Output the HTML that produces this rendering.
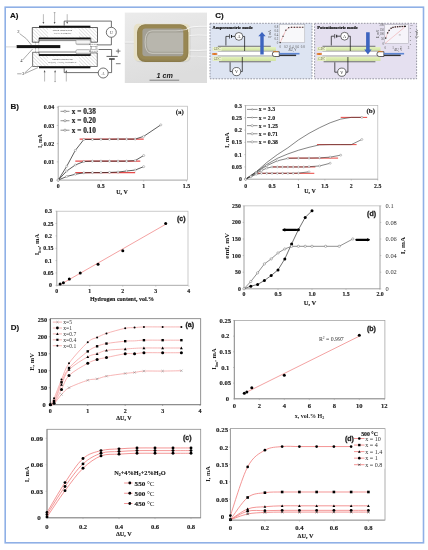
<!DOCTYPE html>
<html><head><meta charset="utf-8"><title>Figure</title>
<style>html,body{margin:0;padding:0;background:#fff;} body{width:428px;height:550px;overflow:hidden;} svg{display:block;}</style>
</head><body>
<svg width="428" height="550" viewBox="0 0 428 550">
<rect x="0" y="0" width="428" height="550" fill="#fff" stroke="none" stroke-width="1" />
<rect x="5.2" y="7.2" width="418.3" height="535.6" fill="none" stroke="#8fb0e6" stroke-width="1.6" />
<text x="10" y="17.7" font-size="8" text-anchor="start" font-weight="bold" font-family="'Liberation Sans', 'DejaVu Sans', sans-serif" fill="#111" stroke="#111" stroke-width="0.15" >A)</text>
<text x="10.4" y="109.4" font-size="8" text-anchor="start" font-weight="bold" font-family="'Liberation Sans', 'DejaVu Sans', sans-serif" fill="#111" stroke="#111" stroke-width="0.15" >B)</text>
<text x="215.2" y="17.9" font-size="8" text-anchor="start" font-weight="bold" font-family="'Liberation Sans', 'DejaVu Sans', sans-serif" fill="#111" stroke="#111" stroke-width="0.15" >C)</text>
<text x="10.8" y="330" font-size="8" text-anchor="start" font-weight="bold" font-family="'Liberation Sans', 'DejaVu Sans', sans-serif" fill="#111" stroke="#111" stroke-width="0.15" >D)</text>
<rect x="58.2" y="106.2" width="129.2" height="73.9" fill="none" stroke="#b4b4b4" stroke-width="0.7" />
<line x1="58.2" y1="106.1" x2="58.2" y2="180.1" stroke="#aaa" stroke-width="0.7" />
<line x1="58.2" y1="180.1" x2="187" y2="180.1" stroke="#aaa" stroke-width="0.7" />
<line x1="56.8" y1="180.1" x2="58.2" y2="180.1" stroke="#999" stroke-width="0.5" />
<text x="51.5" y="182.16" font-size="5.9" text-anchor="middle" font-weight="bold" font-family="'Liberation Serif', 'DejaVu Serif', serif" fill="#222" stroke="#222" stroke-width="0.15" >0</text>
<line x1="56.8" y1="161.88" x2="58.2" y2="161.88" stroke="#999" stroke-width="0.5" />
<text x="54.1" y="163.94" font-size="5.9" text-anchor="end" font-weight="bold" font-family="'Liberation Serif', 'DejaVu Serif', serif" fill="#222" stroke="#222" stroke-width="0.15" >0.01</text>
<line x1="56.8" y1="143.66" x2="58.2" y2="143.66" stroke="#999" stroke-width="0.5" />
<text x="54.1" y="145.72" font-size="5.9" text-anchor="end" font-weight="bold" font-family="'Liberation Serif', 'DejaVu Serif', serif" fill="#222" stroke="#222" stroke-width="0.15" >0.02</text>
<line x1="56.8" y1="125.44" x2="58.2" y2="125.44" stroke="#999" stroke-width="0.5" />
<text x="54.1" y="127.5" font-size="5.9" text-anchor="end" font-weight="bold" font-family="'Liberation Serif', 'DejaVu Serif', serif" fill="#222" stroke="#222" stroke-width="0.15" >0.03</text>
<line x1="56.8" y1="107.22" x2="58.2" y2="107.22" stroke="#999" stroke-width="0.5" />
<text x="54.1" y="109.28" font-size="5.9" text-anchor="end" font-weight="bold" font-family="'Liberation Serif', 'DejaVu Serif', serif" fill="#222" stroke="#222" stroke-width="0.15" >0.04</text>
<line x1="58.2" y1="180.2" x2="58.2" y2="181.5" stroke="#999" stroke-width="0.5" />
<text x="58.2" y="188.03" font-size="5.8" text-anchor="middle" font-weight="bold" font-family="'Liberation Serif', 'DejaVu Serif', serif" fill="#222" stroke="#222" stroke-width="0.15" >0</text>
<line x1="100.95" y1="180.2" x2="100.95" y2="181.5" stroke="#999" stroke-width="0.5" />
<text x="100.95" y="188.03" font-size="5.8" text-anchor="middle" font-weight="bold" font-family="'Liberation Serif', 'DejaVu Serif', serif" fill="#222" stroke="#222" stroke-width="0.15" >0.5</text>
<line x1="143.7" y1="180.2" x2="143.7" y2="181.5" stroke="#999" stroke-width="0.5" />
<text x="143.7" y="188.03" font-size="5.8" text-anchor="middle" font-weight="bold" font-family="'Liberation Serif', 'DejaVu Serif', serif" fill="#222" stroke="#222" stroke-width="0.15" >1</text>
<line x1="186.45" y1="180.2" x2="186.45" y2="181.5" stroke="#999" stroke-width="0.5" />
<text x="186.45" y="188.03" font-size="5.8" text-anchor="middle" font-weight="bold" font-family="'Liberation Serif', 'DejaVu Serif', serif" fill="#222" stroke="#222" stroke-width="0.15" >1.5</text>
<text transform="translate(42.46,141.1) rotate(-90)" font-size="5.6" text-anchor="middle" font-weight="bold" font-family="'Liberation Serif', 'DejaVu Serif', serif" fill="#222" >I, mA</text>
<text x="122" y="193.6" font-size="6" text-anchor="middle" font-weight="bold" font-family="'Liberation Serif', 'DejaVu Serif', serif" fill="#222" stroke="#222" stroke-width="0.15" >U, V</text>
<text x="179.7" y="114.12" font-size="6.9" text-anchor="middle" font-weight="bold" font-family="'Liberation Serif', 'DejaVu Serif', serif" fill="#222" stroke="#222" stroke-width="0.15" >(a)</text>
<line x1="60.5" y1="111.3" x2="69.5" y2="111.3" stroke="#444" stroke-width="0.6" />
<circle cx="65" cy="111.3" r="1.1" fill="#fff" stroke="#555" stroke-width="0.45"/>
<text x="71.7" y="113.75" font-size="7.3" font-weight="bold" font-family="'Liberation Serif', 'DejaVu Serif', serif" fill="#1a1a1a" stroke="#1a1a1a" stroke-width="0.15">x = 0.38</text>
<line x1="60.5" y1="120.75" x2="69.5" y2="120.75" stroke="#444" stroke-width="0.6" />
<circle cx="65" cy="120.75" r="1.1" fill="#fff" stroke="#555" stroke-width="0.45"/>
<text x="71.7" y="123.2" font-size="7.3" font-weight="bold" font-family="'Liberation Serif', 'DejaVu Serif', serif" fill="#1a1a1a" stroke="#1a1a1a" stroke-width="0.15">x = 0.20</text>
<line x1="60.5" y1="130.2" x2="69.5" y2="130.2" stroke="#444" stroke-width="0.6" />
<circle cx="65" cy="130.2" r="1.1" fill="#fff" stroke="#555" stroke-width="0.45"/>
<text x="71.7" y="132.65" font-size="7.3" font-weight="bold" font-family="'Liberation Serif', 'DejaVu Serif', serif" fill="#1a1a1a" stroke="#1a1a1a" stroke-width="0.15">x = 0.10</text>
<line x1="79.58" y1="139.1" x2="143.7" y2="139.1" stroke="#e84a4a" stroke-width="1.1" />
<polyline points="58.2,180.1 66.75,166.25 75.3,150.4 83.85,139.47 92.4,139.47 100.95,139.29 109.5,139.29 118.05,139.1 126.6,139.1 135.15,139.1 143.7,136.37 160.8,124.89" stroke="#2a2a2a" stroke-width="0.75" fill="none" />
<circle cx="58.2" cy="180.1" r="1.05" fill="#fff" stroke="#777" stroke-width="0.4"/>
<circle cx="66.75" cy="166.25" r="1.05" fill="#fff" stroke="#777" stroke-width="0.4"/>
<circle cx="75.3" cy="150.4" r="1.05" fill="#fff" stroke="#777" stroke-width="0.4"/>
<circle cx="83.85" cy="139.47" r="1.05" fill="#fff" stroke="#777" stroke-width="0.4"/>
<circle cx="92.4" cy="139.47" r="1.05" fill="#fff" stroke="#777" stroke-width="0.4"/>
<circle cx="100.95" cy="139.29" r="1.05" fill="#fff" stroke="#777" stroke-width="0.4"/>
<circle cx="109.5" cy="139.29" r="1.05" fill="#fff" stroke="#777" stroke-width="0.4"/>
<circle cx="118.05" cy="139.1" r="1.05" fill="#fff" stroke="#777" stroke-width="0.4"/>
<circle cx="126.6" cy="139.1" r="1.05" fill="#fff" stroke="#777" stroke-width="0.4"/>
<circle cx="135.15" cy="139.1" r="1.05" fill="#fff" stroke="#777" stroke-width="0.4"/>
<circle cx="143.7" cy="136.37" r="1.05" fill="#fff" stroke="#777" stroke-width="0.4"/>
<circle cx="160.8" cy="124.89" r="1.05" fill="#fff" stroke="#777" stroke-width="0.4"/>
<line x1="75.3" y1="161.15" x2="140.28" y2="161.15" stroke="#e84a4a" stroke-width="1.1" />
<polyline points="58.2,180.1 66.75,170.99 75.3,164.98 83.85,161.52 92.4,161.15 100.95,161.15 109.5,161.15 118.05,161.15 126.6,161.15 135.15,160.6 143.7,155.5" stroke="#2a2a2a" stroke-width="0.75" fill="none" />
<circle cx="58.2" cy="180.1" r="1.05" fill="#fff" stroke="#777" stroke-width="0.4"/>
<circle cx="66.75" cy="170.99" r="1.05" fill="#fff" stroke="#777" stroke-width="0.4"/>
<circle cx="75.3" cy="164.98" r="1.05" fill="#fff" stroke="#777" stroke-width="0.4"/>
<circle cx="83.85" cy="161.52" r="1.05" fill="#fff" stroke="#777" stroke-width="0.4"/>
<circle cx="92.4" cy="161.15" r="1.05" fill="#fff" stroke="#777" stroke-width="0.4"/>
<circle cx="100.95" cy="161.15" r="1.05" fill="#fff" stroke="#777" stroke-width="0.4"/>
<circle cx="109.5" cy="161.15" r="1.05" fill="#fff" stroke="#777" stroke-width="0.4"/>
<circle cx="118.05" cy="161.15" r="1.05" fill="#fff" stroke="#777" stroke-width="0.4"/>
<circle cx="126.6" cy="161.15" r="1.05" fill="#fff" stroke="#777" stroke-width="0.4"/>
<circle cx="135.15" cy="160.6" r="1.05" fill="#fff" stroke="#777" stroke-width="0.4"/>
<circle cx="143.7" cy="155.5" r="1.05" fill="#fff" stroke="#777" stroke-width="0.4"/>
<line x1="75.3" y1="172.63" x2="135.15" y2="172.63" stroke="#e84a4a" stroke-width="1.1" />
<polyline points="58.2,180.1 66.75,176.46 75.3,174.27 83.85,172.81 92.4,172.63 100.95,172.63 109.5,172.45 118.05,172.08 126.6,170.99 135.15,170.08 143.7,166.62" stroke="#2a2a2a" stroke-width="0.75" fill="none" />
<circle cx="58.2" cy="180.1" r="1.05" fill="#fff" stroke="#777" stroke-width="0.4"/>
<circle cx="66.75" cy="176.46" r="1.05" fill="#fff" stroke="#777" stroke-width="0.4"/>
<circle cx="75.3" cy="174.27" r="1.05" fill="#fff" stroke="#777" stroke-width="0.4"/>
<circle cx="83.85" cy="172.81" r="1.05" fill="#fff" stroke="#777" stroke-width="0.4"/>
<circle cx="92.4" cy="172.63" r="1.05" fill="#fff" stroke="#777" stroke-width="0.4"/>
<circle cx="100.95" cy="172.63" r="1.05" fill="#fff" stroke="#777" stroke-width="0.4"/>
<circle cx="109.5" cy="172.45" r="1.05" fill="#fff" stroke="#777" stroke-width="0.4"/>
<circle cx="118.05" cy="172.08" r="1.05" fill="#fff" stroke="#777" stroke-width="0.4"/>
<circle cx="126.6" cy="170.99" r="1.05" fill="#fff" stroke="#777" stroke-width="0.4"/>
<circle cx="135.15" cy="170.08" r="1.05" fill="#fff" stroke="#777" stroke-width="0.4"/>
<circle cx="143.7" cy="166.62" r="1.05" fill="#fff" stroke="#777" stroke-width="0.4"/>
<rect x="245.6" y="105.6" width="132.2" height="73.6" fill="none" stroke="#b4b4b4" stroke-width="0.7" />
<line x1="245.6" y1="105.6" x2="245.6" y2="179.2" stroke="#aaa" stroke-width="0.7" />
<line x1="245.6" y1="179.2" x2="377.8" y2="179.2" stroke="#aaa" stroke-width="0.7" />
<line x1="244.3" y1="179.2" x2="245.6" y2="179.2" stroke="#999" stroke-width="0.5" />
<text x="241.8" y="181.23" font-size="5.8" text-anchor="end" font-weight="bold" font-family="'Liberation Serif', 'DejaVu Serif', serif" fill="#222" stroke="#222" stroke-width="0.15" >0</text>
<line x1="244.3" y1="166.94" x2="245.6" y2="166.94" stroke="#999" stroke-width="0.5" />
<text x="241.8" y="168.97" font-size="5.8" text-anchor="end" font-weight="bold" font-family="'Liberation Serif', 'DejaVu Serif', serif" fill="#222" stroke="#222" stroke-width="0.15" >0.05</text>
<line x1="244.3" y1="154.67" x2="245.6" y2="154.67" stroke="#999" stroke-width="0.5" />
<text x="241.8" y="156.7" font-size="5.8" text-anchor="end" font-weight="bold" font-family="'Liberation Serif', 'DejaVu Serif', serif" fill="#222" stroke="#222" stroke-width="0.15" >0.1</text>
<line x1="244.3" y1="142.4" x2="245.6" y2="142.4" stroke="#999" stroke-width="0.5" />
<text x="241.8" y="144.43" font-size="5.8" text-anchor="end" font-weight="bold" font-family="'Liberation Serif', 'DejaVu Serif', serif" fill="#222" stroke="#222" stroke-width="0.15" >0.15</text>
<line x1="244.3" y1="130.14" x2="245.6" y2="130.14" stroke="#999" stroke-width="0.5" />
<text x="241.8" y="132.17" font-size="5.8" text-anchor="end" font-weight="bold" font-family="'Liberation Serif', 'DejaVu Serif', serif" fill="#222" stroke="#222" stroke-width="0.15" >0.2</text>
<line x1="244.3" y1="117.87" x2="245.6" y2="117.87" stroke="#999" stroke-width="0.5" />
<text x="241.8" y="119.9" font-size="5.8" text-anchor="end" font-weight="bold" font-family="'Liberation Serif', 'DejaVu Serif', serif" fill="#222" stroke="#222" stroke-width="0.15" >0.25</text>
<line x1="244.3" y1="105.61" x2="245.6" y2="105.61" stroke="#999" stroke-width="0.5" />
<text x="241.8" y="107.64" font-size="5.8" text-anchor="end" font-weight="bold" font-family="'Liberation Serif', 'DejaVu Serif', serif" fill="#222" stroke="#222" stroke-width="0.15" >0.3</text>
<line x1="245.6" y1="179.2" x2="245.6" y2="180.5" stroke="#999" stroke-width="0.5" />
<text x="245.6" y="187.53" font-size="5.8" text-anchor="middle" font-weight="bold" font-family="'Liberation Serif', 'DejaVu Serif', serif" fill="#222" stroke="#222" stroke-width="0.15" >0</text>
<line x1="272.02" y1="179.2" x2="272.02" y2="180.5" stroke="#999" stroke-width="0.5" />
<text x="272.02" y="187.53" font-size="5.8" text-anchor="middle" font-weight="bold" font-family="'Liberation Serif', 'DejaVu Serif', serif" fill="#222" stroke="#222" stroke-width="0.15" >0.5</text>
<line x1="298.45" y1="179.2" x2="298.45" y2="180.5" stroke="#999" stroke-width="0.5" />
<text x="298.45" y="187.53" font-size="5.8" text-anchor="middle" font-weight="bold" font-family="'Liberation Serif', 'DejaVu Serif', serif" fill="#222" stroke="#222" stroke-width="0.15" >1</text>
<line x1="324.88" y1="179.2" x2="324.88" y2="180.5" stroke="#999" stroke-width="0.5" />
<text x="324.88" y="187.53" font-size="5.8" text-anchor="middle" font-weight="bold" font-family="'Liberation Serif', 'DejaVu Serif', serif" fill="#222" stroke="#222" stroke-width="0.15" >1.5</text>
<line x1="351.3" y1="179.2" x2="351.3" y2="180.5" stroke="#999" stroke-width="0.5" />
<text x="351.3" y="187.53" font-size="5.8" text-anchor="middle" font-weight="bold" font-family="'Liberation Serif', 'DejaVu Serif', serif" fill="#222" stroke="#222" stroke-width="0.15" >2</text>
<line x1="377.73" y1="179.2" x2="377.73" y2="180.5" stroke="#999" stroke-width="0.5" />
<text x="377.73" y="187.53" font-size="5.8" text-anchor="middle" font-weight="bold" font-family="'Liberation Serif', 'DejaVu Serif', serif" fill="#222" stroke="#222" stroke-width="0.15" >2.5</text>
<text transform="translate(229.14,140.2) rotate(-90)" font-size="6.4" text-anchor="middle" font-weight="bold" font-family="'Liberation Serif', 'DejaVu Serif', serif" fill="#222" >I, mA</text>
<text x="310" y="193.1" font-size="6" text-anchor="middle" font-weight="bold" font-family="'Liberation Serif', 'DejaVu Serif', serif" fill="#222" stroke="#222" stroke-width="0.15" >U, V</text>
<text x="370.7" y="113.35" font-size="7" text-anchor="middle" font-weight="bold" font-family="'Liberation Serif', 'DejaVu Serif', serif" fill="#222" stroke="#222" stroke-width="0.15" >(b)</text>
<line x1="247" y1="109.4" x2="257.5" y2="109.4" stroke="#444" stroke-width="0.6" />
<circle cx="252.2" cy="109.4" r="0.7" fill="#fff" stroke="#555" stroke-width="0.35"/>
<text x="258.8" y="111.41" font-size="5.75" text-anchor="start" font-weight="bold" font-family="'Liberation Serif', 'DejaVu Serif', serif" fill="#222" stroke="#222" stroke-width="0.15" >x = 3.3</text>
<line x1="247" y1="117.52" x2="257.5" y2="117.52" stroke="#444" stroke-width="0.6" />
<circle cx="252.2" cy="117.52" r="0.7" fill="#fff" stroke="#555" stroke-width="0.35"/>
<text x="258.8" y="119.53" font-size="5.75" text-anchor="start" font-weight="bold" font-family="'Liberation Serif', 'DejaVu Serif', serif" fill="#222" stroke="#222" stroke-width="0.15" >x = 2.0</text>
<line x1="247" y1="125.64" x2="257.5" y2="125.64" stroke="#444" stroke-width="0.6" />
<circle cx="252.2" cy="125.64" r="1.1" fill="#fff" stroke="#666" stroke-width="0.4"/>
<text x="258.8" y="127.65" font-size="5.75" text-anchor="start" font-weight="bold" font-family="'Liberation Serif', 'DejaVu Serif', serif" fill="#222" stroke="#222" stroke-width="0.15" >x = 1.25</text>
<line x1="247" y1="133.76" x2="257.5" y2="133.76" stroke="#444" stroke-width="0.6" />
<circle cx="252.2" cy="133.76" r="1.1" fill="#fff" stroke="#666" stroke-width="0.4"/>
<text x="258.8" y="135.77" font-size="5.75" text-anchor="start" font-weight="bold" font-family="'Liberation Serif', 'DejaVu Serif', serif" fill="#222" stroke="#222" stroke-width="0.15" >x = 0.71</text>
<line x1="247" y1="141.88" x2="257.5" y2="141.88" stroke="#444" stroke-width="0.6" />
<circle cx="252.2" cy="141.88" r="1.1" fill="#fff" stroke="#666" stroke-width="0.4"/>
<text x="258.8" y="143.89" font-size="5.75" text-anchor="start" font-weight="bold" font-family="'Liberation Serif', 'DejaVu Serif', serif" fill="#222" stroke="#222" stroke-width="0.15" >x = 0.38</text>
<line x1="340.73" y1="117.38" x2="367.15" y2="117.38" stroke="#e8332e" stroke-width="0.9" />
<polyline points="245.6,179.2 256.17,171.84 266.74,162.52 277.31,154.67 287.88,147.8 298.45,139.95 309.02,133.33 319.59,127.69 330.16,122.78 340.73,119.1 351.3,117.38 361.87,117.38" stroke="#333" stroke-width="0.6" fill="none" />
<circle cx="361.87" cy="117.38" r="1" fill="#fff" stroke="#777" stroke-width="0.4"/>
<line x1="316.95" y1="144.61" x2="356.59" y2="144.61" stroke="#e8332e" stroke-width="0.9" />
<polyline points="245.6,179.2 256.17,171.84 266.74,164.48 277.31,158.35 287.88,153.93 298.45,150.25 309.02,147.31 319.59,144.86 330.16,144.61 340.73,144.61 351.3,144.61 361.87,139.46" stroke="#333" stroke-width="0.6" fill="none" />
<circle cx="361.87" cy="139.46" r="1" fill="#fff" stroke="#777" stroke-width="0.4"/>
<line x1="287.88" y1="158.1" x2="338.09" y2="158.1" stroke="#e8332e" stroke-width="0.9" />
<polyline points="245.6,179.2 256.17,172.33 266.74,165.71 277.31,160.8 287.88,158.35 298.45,158.1 309.02,158.1 319.59,157.86 330.16,157.12 340.73,155.16" stroke="#333" stroke-width="0.6" fill="none" />
<circle cx="245.6" cy="179.2" r="1" fill="#fff" stroke="#777" stroke-width="0.4"/>
<circle cx="256.17" cy="172.33" r="1" fill="#fff" stroke="#777" stroke-width="0.4"/>
<circle cx="266.74" cy="165.71" r="1" fill="#fff" stroke="#777" stroke-width="0.4"/>
<circle cx="277.31" cy="160.8" r="1" fill="#fff" stroke="#777" stroke-width="0.4"/>
<circle cx="287.88" cy="158.35" r="1" fill="#fff" stroke="#777" stroke-width="0.4"/>
<circle cx="298.45" cy="158.1" r="1" fill="#fff" stroke="#777" stroke-width="0.4"/>
<circle cx="309.02" cy="158.1" r="1" fill="#fff" stroke="#777" stroke-width="0.4"/>
<circle cx="319.59" cy="157.86" r="1" fill="#fff" stroke="#777" stroke-width="0.4"/>
<circle cx="330.16" cy="157.12" r="1" fill="#fff" stroke="#777" stroke-width="0.4"/>
<circle cx="340.73" cy="155.16" r="1" fill="#fff" stroke="#777" stroke-width="0.4"/>
<line x1="272.02" y1="166.94" x2="315.36" y2="166.94" stroke="#e8332e" stroke-width="0.9" />
<polyline points="245.6,179.2 250.88,176.26 256.17,173.31 261.45,170.61 266.74,168.16 272.02,166.94 277.31,166.94 282.59,166.94 287.88,166.94 293.17,166.94 298.45,166.94 303.74,166.94 309.02,166.69 319.59,165.95 330.16,163.26" stroke="#333" stroke-width="0.6" fill="none" />
<circle cx="245.6" cy="179.2" r="1" fill="#fff" stroke="#777" stroke-width="0.4"/>
<circle cx="250.88" cy="176.26" r="1" fill="#fff" stroke="#777" stroke-width="0.4"/>
<circle cx="256.17" cy="173.31" r="1" fill="#fff" stroke="#777" stroke-width="0.4"/>
<circle cx="261.45" cy="170.61" r="1" fill="#fff" stroke="#777" stroke-width="0.4"/>
<circle cx="266.74" cy="168.16" r="1" fill="#fff" stroke="#777" stroke-width="0.4"/>
<circle cx="272.02" cy="166.94" r="1" fill="#fff" stroke="#777" stroke-width="0.4"/>
<circle cx="277.31" cy="166.94" r="1" fill="#fff" stroke="#777" stroke-width="0.4"/>
<circle cx="282.59" cy="166.94" r="1" fill="#fff" stroke="#777" stroke-width="0.4"/>
<circle cx="287.88" cy="166.94" r="1" fill="#fff" stroke="#777" stroke-width="0.4"/>
<circle cx="293.17" cy="166.94" r="1" fill="#fff" stroke="#777" stroke-width="0.4"/>
<circle cx="298.45" cy="166.94" r="1" fill="#fff" stroke="#777" stroke-width="0.4"/>
<circle cx="303.74" cy="166.94" r="1" fill="#fff" stroke="#777" stroke-width="0.4"/>
<circle cx="309.02" cy="166.69" r="1" fill="#fff" stroke="#777" stroke-width="0.4"/>
<circle cx="319.59" cy="165.95" r="1" fill="#fff" stroke="#777" stroke-width="0.4"/>
<circle cx="330.16" cy="163.26" r="1" fill="#fff" stroke="#777" stroke-width="0.4"/>
<line x1="257.76" y1="173.31" x2="314.31" y2="173.31" stroke="#e8332e" stroke-width="0.9" />
<polyline points="245.6,179.2 250.88,176.75 256.17,174.29 261.45,173.31 266.74,173.31 272.02,173.31 277.31,173.31 282.59,173.31 287.88,173.31 293.17,173.31 298.45,173.07 309.02,171.84" stroke="#333" stroke-width="0.6" fill="none" />
<circle cx="245.6" cy="179.2" r="1" fill="#fff" stroke="#777" stroke-width="0.4"/>
<circle cx="250.88" cy="176.75" r="1" fill="#fff" stroke="#777" stroke-width="0.4"/>
<circle cx="256.17" cy="174.29" r="1" fill="#fff" stroke="#777" stroke-width="0.4"/>
<circle cx="261.45" cy="173.31" r="1" fill="#fff" stroke="#777" stroke-width="0.4"/>
<circle cx="266.74" cy="173.31" r="1" fill="#fff" stroke="#777" stroke-width="0.4"/>
<circle cx="272.02" cy="173.31" r="1" fill="#fff" stroke="#777" stroke-width="0.4"/>
<circle cx="277.31" cy="173.31" r="1" fill="#fff" stroke="#777" stroke-width="0.4"/>
<circle cx="282.59" cy="173.31" r="1" fill="#fff" stroke="#777" stroke-width="0.4"/>
<circle cx="287.88" cy="173.31" r="1" fill="#fff" stroke="#777" stroke-width="0.4"/>
<circle cx="293.17" cy="173.31" r="1" fill="#fff" stroke="#777" stroke-width="0.4"/>
<circle cx="298.45" cy="173.07" r="1" fill="#fff" stroke="#777" stroke-width="0.4"/>
<circle cx="309.02" cy="171.84" r="1" fill="#fff" stroke="#777" stroke-width="0.4"/>
<rect x="56.8" y="211.2" width="131.2" height="74.1" fill="none" stroke="#b4b4b4" stroke-width="0.7" />
<line x1="56.8" y1="211.2" x2="56.8" y2="285.3" stroke="#aaa" stroke-width="0.7" />
<line x1="56.8" y1="285.3" x2="188" y2="285.3" stroke="#aaa" stroke-width="0.7" />
<line x1="55.5" y1="285.3" x2="56.8" y2="285.3" stroke="#999" stroke-width="0.5" />
<text x="50.5" y="287.37" font-size="5.9" text-anchor="middle" font-weight="bold" font-family="'Liberation Serif', 'DejaVu Serif', serif" fill="#222" stroke="#222" stroke-width="0.15" >0</text>
<line x1="55.5" y1="272.95" x2="56.8" y2="272.95" stroke="#999" stroke-width="0.5" />
<text x="48.4" y="275.01" font-size="5.9" text-anchor="middle" font-weight="bold" font-family="'Liberation Serif', 'DejaVu Serif', serif" fill="#222" stroke="#222" stroke-width="0.15" >0.05</text>
<line x1="55.5" y1="260.6" x2="56.8" y2="260.6" stroke="#999" stroke-width="0.5" />
<text x="48.4" y="262.67" font-size="5.9" text-anchor="middle" font-weight="bold" font-family="'Liberation Serif', 'DejaVu Serif', serif" fill="#222" stroke="#222" stroke-width="0.15" >0.1</text>
<line x1="55.5" y1="248.25" x2="56.8" y2="248.25" stroke="#999" stroke-width="0.5" />
<text x="48.4" y="250.31" font-size="5.9" text-anchor="middle" font-weight="bold" font-family="'Liberation Serif', 'DejaVu Serif', serif" fill="#222" stroke="#222" stroke-width="0.15" >0.15</text>
<line x1="55.5" y1="235.9" x2="56.8" y2="235.9" stroke="#999" stroke-width="0.5" />
<text x="48.4" y="237.97" font-size="5.9" text-anchor="middle" font-weight="bold" font-family="'Liberation Serif', 'DejaVu Serif', serif" fill="#222" stroke="#222" stroke-width="0.15" >0.2</text>
<line x1="55.5" y1="223.55" x2="56.8" y2="223.55" stroke="#999" stroke-width="0.5" />
<text x="48.4" y="225.62" font-size="5.9" text-anchor="middle" font-weight="bold" font-family="'Liberation Serif', 'DejaVu Serif', serif" fill="#222" stroke="#222" stroke-width="0.15" >0.25</text>
<line x1="55.5" y1="211.2" x2="56.8" y2="211.2" stroke="#999" stroke-width="0.5" />
<text x="48.4" y="213.27" font-size="5.9" text-anchor="middle" font-weight="bold" font-family="'Liberation Serif', 'DejaVu Serif', serif" fill="#222" stroke="#222" stroke-width="0.15" >0.3</text>
<line x1="56.8" y1="285.3" x2="56.8" y2="286.6" stroke="#999" stroke-width="0.5" />
<text x="56.8" y="293.23" font-size="5.8" text-anchor="middle" font-weight="bold" font-family="'Liberation Serif', 'DejaVu Serif', serif" fill="#222" stroke="#222" stroke-width="0.15" >0</text>
<line x1="89.8" y1="285.3" x2="89.8" y2="286.6" stroke="#999" stroke-width="0.5" />
<text x="89.8" y="293.23" font-size="5.8" text-anchor="middle" font-weight="bold" font-family="'Liberation Serif', 'DejaVu Serif', serif" fill="#222" stroke="#222" stroke-width="0.15" >1</text>
<line x1="122.8" y1="285.3" x2="122.8" y2="286.6" stroke="#999" stroke-width="0.5" />
<text x="122.8" y="293.23" font-size="5.8" text-anchor="middle" font-weight="bold" font-family="'Liberation Serif', 'DejaVu Serif', serif" fill="#222" stroke="#222" stroke-width="0.15" >2</text>
<line x1="155.8" y1="285.3" x2="155.8" y2="286.6" stroke="#999" stroke-width="0.5" />
<text x="155.8" y="293.23" font-size="5.8" text-anchor="middle" font-weight="bold" font-family="'Liberation Serif', 'DejaVu Serif', serif" fill="#222" stroke="#222" stroke-width="0.15" >3</text>
<line x1="188.8" y1="285.3" x2="188.8" y2="286.6" stroke="#999" stroke-width="0.5" />
<text x="188.8" y="293.23" font-size="5.8" text-anchor="middle" font-weight="bold" font-family="'Liberation Serif', 'DejaVu Serif', serif" fill="#222" stroke="#222" stroke-width="0.15" >4</text>
<text transform="translate(39.3,244.6) rotate(-90)" font-size="6.5" text-anchor="middle" font-weight="bold" font-family="'Liberation Serif', 'DejaVu Serif', serif" fill="#222">I<tspan font-size="4" dy="1.5">lim</tspan><tspan dy="-1.5">, mA</tspan></text>
<text x="122" y="301.4" font-size="6" text-anchor="middle" font-weight="bold" font-family="'Liberation Serif', 'DejaVu Serif', serif" fill="#222" stroke="#222" stroke-width="0.15" >Hydrogen content, vol.%</text>
<text x="181.3" y="221.15" font-size="7" text-anchor="middle" font-weight="bold" font-family="'Liberation Sans', 'DejaVu Sans', sans-serif" fill="#222" stroke="#222" stroke-width="0.3">(c)</text>
<line x1="61.09" y1="284.19" x2="165.7" y2="224.29" stroke="#f08a8a" stroke-width="0.8" />
<circle cx="60.1" cy="284.06" r="1.5" fill="#000" stroke="none" stroke-width="0.6"/>
<circle cx="63.4" cy="282.83" r="1.5" fill="#000" stroke="none" stroke-width="0.6"/>
<circle cx="69.34" cy="279.12" r="1.5" fill="#000" stroke="none" stroke-width="0.6"/>
<circle cx="80.23" cy="272.95" r="1.5" fill="#000" stroke="none" stroke-width="0.6"/>
<circle cx="98.05" cy="264.31" r="1.5" fill="#000" stroke="none" stroke-width="0.6"/>
<circle cx="122.8" cy="250.72" r="1.5" fill="#000" stroke="none" stroke-width="0.6"/>
<circle cx="165.7" cy="223.55" r="1.5" fill="#000" stroke="none" stroke-width="0.6"/>
<line x1="244" y1="205.8" x2="380" y2="205.8" stroke="#b4b4b4" stroke-width="0.7" />
<line x1="244" y1="205.8" x2="244" y2="288.8" stroke="#888" stroke-width="0.8" />
<line x1="244" y1="288.8" x2="380" y2="288.8" stroke="#888" stroke-width="0.8" />
<line x1="380" y1="205.8" x2="380" y2="288.8" stroke="#888" stroke-width="0.8" />
<line x1="242.7" y1="288.8" x2="244" y2="288.8" stroke="#999" stroke-width="0.5" />
<text x="240.8" y="290.83" font-size="5.8" text-anchor="end" font-weight="bold" font-family="'Liberation Serif', 'DejaVu Serif', serif" fill="#222" stroke="#222" stroke-width="0.15" >0</text>
<line x1="242.7" y1="272.2" x2="244" y2="272.2" stroke="#999" stroke-width="0.5" />
<text x="240.8" y="274.23" font-size="5.8" text-anchor="end" font-weight="bold" font-family="'Liberation Serif', 'DejaVu Serif', serif" fill="#222" stroke="#222" stroke-width="0.15" >50</text>
<line x1="242.7" y1="255.6" x2="244" y2="255.6" stroke="#999" stroke-width="0.5" />
<text x="240.8" y="257.63" font-size="5.8" text-anchor="end" font-weight="bold" font-family="'Liberation Serif', 'DejaVu Serif', serif" fill="#222" stroke="#222" stroke-width="0.15" >100</text>
<line x1="242.7" y1="239" x2="244" y2="239" stroke="#999" stroke-width="0.5" />
<text x="240.8" y="241.03" font-size="5.8" text-anchor="end" font-weight="bold" font-family="'Liberation Serif', 'DejaVu Serif', serif" fill="#222" stroke="#222" stroke-width="0.15" >150</text>
<line x1="242.7" y1="222.4" x2="244" y2="222.4" stroke="#999" stroke-width="0.5" />
<text x="240.8" y="224.43" font-size="5.8" text-anchor="end" font-weight="bold" font-family="'Liberation Serif', 'DejaVu Serif', serif" fill="#222" stroke="#222" stroke-width="0.15" >200</text>
<line x1="242.7" y1="205.8" x2="244" y2="205.8" stroke="#999" stroke-width="0.5" />
<text x="240.8" y="207.83" font-size="5.8" text-anchor="end" font-weight="bold" font-family="'Liberation Serif', 'DejaVu Serif', serif" fill="#222" stroke="#222" stroke-width="0.15" >250</text>
<line x1="380" y1="288.8" x2="381.3" y2="288.8" stroke="#999" stroke-width="0.5" />
<text x="385.6" y="291.04" font-size="6.4" text-anchor="start" font-weight="normal" font-family="'Liberation Serif', 'DejaVu Serif', serif" fill="#333" >0</text>
<line x1="380" y1="272.2" x2="381.3" y2="272.2" stroke="#999" stroke-width="0.5" />
<text x="385.6" y="274.44" font-size="6.4" text-anchor="start" font-weight="normal" font-family="'Liberation Serif', 'DejaVu Serif', serif" fill="#333" >0.02</text>
<line x1="380" y1="255.6" x2="381.3" y2="255.6" stroke="#999" stroke-width="0.5" />
<text x="385.6" y="257.84" font-size="6.4" text-anchor="start" font-weight="normal" font-family="'Liberation Serif', 'DejaVu Serif', serif" fill="#333" >0.04</text>
<line x1="380" y1="239" x2="381.3" y2="239" stroke="#999" stroke-width="0.5" />
<text x="385.6" y="241.24" font-size="6.4" text-anchor="start" font-weight="normal" font-family="'Liberation Serif', 'DejaVu Serif', serif" fill="#333" >0.06</text>
<line x1="380" y1="222.4" x2="381.3" y2="222.4" stroke="#999" stroke-width="0.5" />
<text x="385.6" y="224.64" font-size="6.4" text-anchor="start" font-weight="normal" font-family="'Liberation Serif', 'DejaVu Serif', serif" fill="#333" >0.08</text>
<line x1="380" y1="205.8" x2="381.3" y2="205.8" stroke="#999" stroke-width="0.5" />
<text x="385.6" y="208.04" font-size="6.4" text-anchor="start" font-weight="normal" font-family="'Liberation Serif', 'DejaVu Serif', serif" fill="#333" >0.1</text>
<line x1="244" y1="288.8" x2="244" y2="290" stroke="#999" stroke-width="0.5" />
<text x="244" y="295.83" font-size="5.8" text-anchor="middle" font-weight="bold" font-family="'Liberation Serif', 'DejaVu Serif', serif" fill="#222" stroke="#222" stroke-width="0.15" >0</text>
<line x1="278" y1="288.8" x2="278" y2="290" stroke="#999" stroke-width="0.5" />
<text x="278" y="295.83" font-size="5.8" text-anchor="middle" font-weight="bold" font-family="'Liberation Serif', 'DejaVu Serif', serif" fill="#222" stroke="#222" stroke-width="0.15" >0.5</text>
<line x1="312" y1="288.8" x2="312" y2="290" stroke="#999" stroke-width="0.5" />
<text x="312" y="295.83" font-size="5.8" text-anchor="middle" font-weight="bold" font-family="'Liberation Serif', 'DejaVu Serif', serif" fill="#222" stroke="#222" stroke-width="0.15" >1.0</text>
<line x1="346" y1="288.8" x2="346" y2="290" stroke="#999" stroke-width="0.5" />
<text x="346" y="295.83" font-size="5.8" text-anchor="middle" font-weight="bold" font-family="'Liberation Serif', 'DejaVu Serif', serif" fill="#222" stroke="#222" stroke-width="0.15" >1.5</text>
<line x1="380" y1="288.8" x2="380" y2="290" stroke="#999" stroke-width="0.5" />
<text x="380" y="295.83" font-size="5.8" text-anchor="middle" font-weight="bold" font-family="'Liberation Serif', 'DejaVu Serif', serif" fill="#222" stroke="#222" stroke-width="0.15" >2.0</text>
<text transform="translate(228.75,245.8) rotate(-90)" font-size="7" text-anchor="middle" font-weight="bold" font-family="'Liberation Serif', 'DejaVu Serif', serif" fill="#222" >emf, mV</text>
<text transform="translate(405.35,245.6) rotate(-90)" font-size="7" text-anchor="middle" font-weight="bold" font-family="'Liberation Serif', 'DejaVu Serif', serif" fill="#222" >I, mA</text>
<text x="310" y="304.57" font-size="6.5" text-anchor="middle" font-weight="bold" font-family="'Liberation Serif', 'DejaVu Serif', serif" fill="#222" stroke="#222" stroke-width="0.15" >U, V</text>
<text x="371.6" y="215.75" font-size="7" text-anchor="middle" font-weight="bold" font-family="'Liberation Sans', 'DejaVu Sans', sans-serif" fill="#222" stroke="#222" stroke-width="0.3">(d)</text>
<polyline points="244,288.8 250.8,286.14 257.6,284.48 264.4,280.5 271.2,275.52 278,269.88 284.8,258.92 291.6,243.98 298.4,229.7 305.2,217.42 312,210.78" stroke="#333" stroke-width="0.7" fill="none" />
<polyline points="244,288.8 250.8,281.5 257.6,272.86 264.4,263.9 271.2,258.92 278,252.94 284.8,248.96 291.6,246.3 298.4,246.3 305.2,246.3 312,246.3 325.6,246.3 339.2,246.3 352.8,239" stroke="#444" stroke-width="0.6" fill="none" />
<path d="M283.6,229.9 H296.3" stroke="#000" stroke-width="2.3" stroke-linecap="round"/>
<polygon points="282.6,229.9 285.2,228.1 285.2,231.7" fill="#000"/>
<path d="M356.4,239.8 H368.6" stroke="#000" stroke-width="2.3" stroke-linecap="round"/>
<polygon points="369.8,239.8 367.2,238 367.2,241.6" fill="#000"/>
<circle cx="250.8" cy="286.14" r="1.5" fill="#000" stroke="none" stroke-width="0.6"/>
<circle cx="257.6" cy="284.48" r="1.5" fill="#000" stroke="none" stroke-width="0.6"/>
<circle cx="264.4" cy="280.5" r="1.5" fill="#000" stroke="none" stroke-width="0.6"/>
<circle cx="271.2" cy="275.52" r="1.5" fill="#000" stroke="none" stroke-width="0.6"/>
<circle cx="278" cy="269.88" r="1.5" fill="#000" stroke="none" stroke-width="0.6"/>
<circle cx="284.8" cy="258.92" r="1.5" fill="#000" stroke="none" stroke-width="0.6"/>
<circle cx="291.6" cy="243.98" r="1.5" fill="#000" stroke="none" stroke-width="0.6"/>
<circle cx="298.4" cy="229.7" r="1.5" fill="#000" stroke="none" stroke-width="0.6"/>
<circle cx="305.2" cy="217.42" r="1.5" fill="#000" stroke="none" stroke-width="0.6"/>
<circle cx="312" cy="210.78" r="1.5" fill="#000" stroke="none" stroke-width="0.6"/>
<circle cx="244" cy="288.8" r="1.15" fill="#fff" stroke="#666" stroke-width="0.45"/>
<circle cx="250.8" cy="281.5" r="1.15" fill="#fff" stroke="#666" stroke-width="0.45"/>
<circle cx="257.6" cy="272.86" r="1.15" fill="#fff" stroke="#666" stroke-width="0.45"/>
<circle cx="264.4" cy="263.9" r="1.15" fill="#fff" stroke="#666" stroke-width="0.45"/>
<circle cx="271.2" cy="258.92" r="1.15" fill="#fff" stroke="#666" stroke-width="0.45"/>
<circle cx="278" cy="252.94" r="1.15" fill="#fff" stroke="#666" stroke-width="0.45"/>
<circle cx="284.8" cy="248.96" r="1.15" fill="#fff" stroke="#666" stroke-width="0.45"/>
<circle cx="291.6" cy="246.3" r="1.15" fill="#fff" stroke="#666" stroke-width="0.45"/>
<circle cx="298.4" cy="246.3" r="1.15" fill="#fff" stroke="#666" stroke-width="0.45"/>
<circle cx="305.2" cy="246.3" r="1.15" fill="#fff" stroke="#666" stroke-width="0.45"/>
<circle cx="312" cy="246.3" r="1.15" fill="#fff" stroke="#666" stroke-width="0.45"/>
<circle cx="325.6" cy="246.3" r="1.15" fill="#fff" stroke="#666" stroke-width="0.45"/>
<circle cx="339.2" cy="246.3" r="1.15" fill="#fff" stroke="#666" stroke-width="0.45"/>
<circle cx="352.8" cy="239" r="1.15" fill="#fff" stroke="#666" stroke-width="0.45"/>
<rect x="50.3" y="318.7" width="150.4" height="86" fill="none" stroke="#777" stroke-width="0.8" />
<line x1="50.3" y1="318.7" x2="50.3" y2="404.7" stroke="#444" stroke-width="0.9" />
<line x1="50.3" y1="404.7" x2="200.5" y2="404.7" stroke="#888" stroke-width="0.9" />
<line x1="48.8" y1="404.7" x2="50.3" y2="404.7" stroke="#666" stroke-width="0.5" />
<text x="44" y="406.9" font-size="6.3" text-anchor="middle" font-weight="bold" font-family="'Liberation Serif', 'DejaVu Serif', serif" fill="#222" stroke="#222" stroke-width="0.15" >0</text>
<line x1="48.8" y1="387.72" x2="50.3" y2="387.72" stroke="#666" stroke-width="0.5" />
<text x="47.1" y="389.92" font-size="6.3" text-anchor="end" font-weight="bold" font-family="'Liberation Serif', 'DejaVu Serif', serif" fill="#222" stroke="#222" stroke-width="0.15" >50</text>
<line x1="48.8" y1="370.74" x2="50.3" y2="370.74" stroke="#666" stroke-width="0.5" />
<text x="47.1" y="372.94" font-size="6.3" text-anchor="end" font-weight="bold" font-family="'Liberation Serif', 'DejaVu Serif', serif" fill="#222" stroke="#222" stroke-width="0.15" >100</text>
<line x1="48.8" y1="353.76" x2="50.3" y2="353.76" stroke="#666" stroke-width="0.5" />
<text x="47.1" y="355.96" font-size="6.3" text-anchor="end" font-weight="bold" font-family="'Liberation Serif', 'DejaVu Serif', serif" fill="#222" stroke="#222" stroke-width="0.15" >150</text>
<line x1="48.8" y1="336.78" x2="50.3" y2="336.78" stroke="#666" stroke-width="0.5" />
<text x="47.1" y="338.98" font-size="6.3" text-anchor="end" font-weight="bold" font-family="'Liberation Serif', 'DejaVu Serif', serif" fill="#222" stroke="#222" stroke-width="0.15" >200</text>
<line x1="48.8" y1="319.8" x2="50.3" y2="319.8" stroke="#666" stroke-width="0.5" />
<text x="47.1" y="322" font-size="6.3" text-anchor="end" font-weight="bold" font-family="'Liberation Serif', 'DejaVu Serif', serif" fill="#222" stroke="#222" stroke-width="0.15" >250</text>
<line x1="50.3" y1="404.7" x2="50.3" y2="406" stroke="#666" stroke-width="0.5" />
<text x="50.3" y="413" font-size="6" text-anchor="middle" font-weight="bold" font-family="'Liberation Serif', 'DejaVu Serif', serif" fill="#222" stroke="#222" stroke-width="0.15" >0</text>
<line x1="87.75" y1="404.7" x2="87.75" y2="406" stroke="#666" stroke-width="0.5" />
<text x="87.75" y="413" font-size="6" text-anchor="middle" font-weight="bold" font-family="'Liberation Serif', 'DejaVu Serif', serif" fill="#222" stroke="#222" stroke-width="0.15" >1</text>
<line x1="125.2" y1="404.7" x2="125.2" y2="406" stroke="#666" stroke-width="0.5" />
<text x="125.2" y="413" font-size="6" text-anchor="middle" font-weight="bold" font-family="'Liberation Serif', 'DejaVu Serif', serif" fill="#222" stroke="#222" stroke-width="0.15" >2</text>
<line x1="162.65" y1="404.7" x2="162.65" y2="406" stroke="#666" stroke-width="0.5" />
<text x="162.65" y="413" font-size="6" text-anchor="middle" font-weight="bold" font-family="'Liberation Serif', 'DejaVu Serif', serif" fill="#222" stroke="#222" stroke-width="0.15" >3</text>
<line x1="200.1" y1="404.7" x2="200.1" y2="406" stroke="#666" stroke-width="0.5" />
<text x="200.1" y="413" font-size="6" text-anchor="middle" font-weight="bold" font-family="'Liberation Serif', 'DejaVu Serif', serif" fill="#222" stroke="#222" stroke-width="0.15" >4</text>
<text transform="translate(34.48,361.9) rotate(-90)" font-size="6.5" text-anchor="middle" font-weight="bold" font-family="'Liberation Serif', 'DejaVu Serif', serif" fill="#222" >E, mV</text>
<text x="124" y="420" font-size="6" text-anchor="middle" font-weight="bold" font-family="'Liberation Serif', 'DejaVu Serif', serif" fill="#222" stroke="#222" stroke-width="0.15" >ΔU, V</text>
<text x="189.7" y="327.05" font-size="7" text-anchor="middle" font-weight="bold" font-family="'Liberation Sans', 'DejaVu Sans', sans-serif" fill="#222" stroke="#222" stroke-width="0.3">(a)</text>
<path d="M50.3,404.7 C50.92,404.53 52.17,405.38 54.04,403.68 C55.92,401.98 59.04,397.17 61.53,394.51 C64.03,391.85 64.66,390.1 69.03,387.72 C73.39,385.34 83.07,381.72 87.75,380.25 C92.43,378.78 93.99,379.57 97.11,378.89 C100.23,378.21 101.79,377.08 106.47,376.17 C111.16,375.27 120.52,374.08 125.2,373.46 C129.88,372.83 131.44,372.83 134.56,372.44 C137.68,372.04 139.24,371.31 143.93,371.08 C148.61,370.85 156.41,371.14 162.65,371.08 C168.89,371.02 178.25,370.8 181.38,370.74" stroke="#f5a3a3" stroke-width="0.8" fill="none"/>
<path d="M50.3,404.7 C50.92,404.47 52.17,405.89 54.04,403.34 C55.92,400.79 59.04,394.06 61.53,389.42 C64.03,384.78 64.66,379.85 69.03,375.49 C73.39,371.14 83.07,365.93 87.75,363.27 C92.43,360.61 93.99,360.5 97.11,359.53 C100.23,358.57 101.79,358.46 106.47,357.5 C111.16,356.53 120.52,354.38 125.2,353.76 C129.88,353.14 131.44,353.93 134.56,353.76 C137.68,353.59 139.24,352.91 143.93,352.74 C148.61,352.57 156.41,352.74 162.65,352.74 C168.89,352.74 178.25,352.74 181.38,352.74" stroke="#f5a3a3" stroke-width="0.8" fill="none"/>
<path d="M50.3,404.7 C50.92,404.3 52.17,405.66 54.04,402.32 C55.92,398.98 59.04,390.1 61.53,384.66 C64.03,379.23 64.66,374.36 69.03,369.72 C73.39,365.08 83.07,359.48 87.75,356.82 C92.43,354.16 93.99,354.84 97.11,353.76 C100.23,352.68 101.79,351.16 106.47,350.36 C111.16,349.57 120.52,349.35 125.2,349.01 C129.88,348.67 131.44,348.5 134.56,348.33 C137.68,348.16 139.24,348.04 143.93,347.99 C148.61,347.93 156.41,347.99 162.65,347.99 C168.89,347.99 178.25,347.99 181.38,347.99" stroke="#f5a3a3" stroke-width="0.8" fill="none"/>
<path d="M50.3,404.7 C50.92,404.08 52.17,404.7 54.04,400.96 C55.92,397.23 59.04,387.78 61.53,382.29 C64.03,376.8 64.66,373.17 69.03,368.02 C73.39,362.87 83.07,355.01 87.75,351.38 C92.43,347.76 93.99,347.59 97.11,346.29 C100.23,344.99 101.79,344.42 106.47,343.57 C111.16,342.72 120.52,341.65 125.2,341.19 C129.88,340.74 131.44,341.02 134.56,340.86 C137.68,340.69 139.24,340.29 143.93,340.18 C148.61,340.06 156.41,340.18 162.65,340.18 C168.89,340.18 178.25,340.18 181.38,340.18" stroke="#f5a3a3" stroke-width="0.8" fill="none"/>
<path d="M50.3,404.7 C50.92,403.62 52.17,402.44 54.04,398.25 C55.92,394.06 59.04,385.4 61.53,379.57 C64.03,373.74 64.66,369.49 69.03,363.27 C73.39,357.04 83.07,346.52 87.75,342.21 C92.43,337.91 93.99,338.93 97.11,337.46 C100.23,335.99 101.79,334.91 106.47,333.38 C111.16,331.86 120.52,329.25 125.2,328.29 C129.88,327.33 131.44,327.84 134.56,327.61 C137.68,327.38 139.24,327.04 143.93,326.93 C148.61,326.82 156.41,326.93 162.65,326.93 C168.89,326.93 178.25,326.93 181.38,326.93" stroke="#f5a3a3" stroke-width="0.8" fill="none"/>
<line x1="49.1" y1="403.5" x2="51.5" y2="405.9" stroke="#888" stroke-width="0.5" />
<line x1="49.1" y1="405.9" x2="51.5" y2="403.5" stroke="#888" stroke-width="0.5" />
<line x1="52.84" y1="402.48" x2="55.24" y2="404.88" stroke="#888" stroke-width="0.5" />
<line x1="52.84" y1="404.88" x2="55.24" y2="402.48" stroke="#888" stroke-width="0.5" />
<line x1="60.33" y1="393.31" x2="62.73" y2="395.71" stroke="#888" stroke-width="0.5" />
<line x1="60.33" y1="395.71" x2="62.73" y2="393.31" stroke="#888" stroke-width="0.5" />
<line x1="67.83" y1="386.52" x2="70.23" y2="388.92" stroke="#888" stroke-width="0.5" />
<line x1="67.83" y1="388.92" x2="70.23" y2="386.52" stroke="#888" stroke-width="0.5" />
<line x1="86.55" y1="379.05" x2="88.95" y2="381.45" stroke="#888" stroke-width="0.5" />
<line x1="86.55" y1="381.45" x2="88.95" y2="379.05" stroke="#888" stroke-width="0.5" />
<line x1="95.91" y1="377.69" x2="98.31" y2="380.09" stroke="#888" stroke-width="0.5" />
<line x1="95.91" y1="380.09" x2="98.31" y2="377.69" stroke="#888" stroke-width="0.5" />
<line x1="105.27" y1="374.97" x2="107.67" y2="377.37" stroke="#888" stroke-width="0.5" />
<line x1="105.27" y1="377.37" x2="107.67" y2="374.97" stroke="#888" stroke-width="0.5" />
<line x1="124" y1="372.26" x2="126.4" y2="374.66" stroke="#888" stroke-width="0.5" />
<line x1="124" y1="374.66" x2="126.4" y2="372.26" stroke="#888" stroke-width="0.5" />
<line x1="133.36" y1="371.24" x2="135.76" y2="373.64" stroke="#888" stroke-width="0.5" />
<line x1="133.36" y1="373.64" x2="135.76" y2="371.24" stroke="#888" stroke-width="0.5" />
<line x1="142.73" y1="369.88" x2="145.12" y2="372.28" stroke="#888" stroke-width="0.5" />
<line x1="142.73" y1="372.28" x2="145.12" y2="369.88" stroke="#888" stroke-width="0.5" />
<line x1="161.45" y1="369.88" x2="163.85" y2="372.28" stroke="#888" stroke-width="0.5" />
<line x1="161.45" y1="372.28" x2="163.85" y2="369.88" stroke="#888" stroke-width="0.5" />
<line x1="180.18" y1="369.54" x2="182.57" y2="371.94" stroke="#888" stroke-width="0.5" />
<line x1="180.18" y1="371.94" x2="182.57" y2="369.54" stroke="#888" stroke-width="0.5" />
<circle cx="50.3" cy="404.7" r="1.5" fill="#000" stroke="none" stroke-width="0.6"/>
<circle cx="54.04" cy="403.34" r="1.5" fill="#000" stroke="none" stroke-width="0.6"/>
<circle cx="61.53" cy="389.42" r="1.5" fill="#000" stroke="none" stroke-width="0.6"/>
<circle cx="69.03" cy="375.49" r="1.5" fill="#000" stroke="none" stroke-width="0.6"/>
<circle cx="87.75" cy="363.27" r="1.5" fill="#000" stroke="none" stroke-width="0.6"/>
<circle cx="97.11" cy="359.53" r="1.5" fill="#000" stroke="none" stroke-width="0.6"/>
<circle cx="106.47" cy="357.5" r="1.5" fill="#000" stroke="none" stroke-width="0.6"/>
<circle cx="125.2" cy="353.76" r="1.5" fill="#000" stroke="none" stroke-width="0.6"/>
<circle cx="134.56" cy="353.76" r="1.5" fill="#000" stroke="none" stroke-width="0.6"/>
<circle cx="143.93" cy="352.74" r="1.5" fill="#000" stroke="none" stroke-width="0.6"/>
<circle cx="162.65" cy="352.74" r="1.5" fill="#000" stroke="none" stroke-width="0.6"/>
<circle cx="181.38" cy="352.74" r="1.5" fill="#000" stroke="none" stroke-width="0.6"/>
<polygon points="50.3,403.26 51.74,405.85 48.86,405.85" fill="#000"/>
<polygon points="54.04,400.88 55.48,403.47 52.6,403.47" fill="#000"/>
<polygon points="61.53,383.22 62.97,385.82 60.09,385.82" fill="#000"/>
<polygon points="69.03,368.28 70.47,370.87 67.59,370.87" fill="#000"/>
<polygon points="87.75,355.38 89.19,357.97 86.31,357.97" fill="#000"/>
<polygon points="97.11,352.32 98.55,354.91 95.67,354.91" fill="#000"/>
<polygon points="106.47,348.92 107.91,351.52 105.03,351.52" fill="#000"/>
<polygon points="125.2,347.57 126.64,350.16 123.76,350.16" fill="#000"/>
<polygon points="143.93,346.55 145.37,349.14 142.49,349.14" fill="#000"/>
<polygon points="162.65,346.55 164.09,349.14 161.21,349.14" fill="#000"/>
<polygon points="181.38,346.55 182.81,349.14 179.94,349.14" fill="#000"/>
<rect x="49.1" y="403.5" width="2.4" height="2.4" fill="#000" stroke="none" stroke-width="1" />
<rect x="52.84" y="399.76" width="2.4" height="2.4" fill="#000" stroke="none" stroke-width="1" />
<rect x="60.33" y="381.09" width="2.4" height="2.4" fill="#000" stroke="none" stroke-width="1" />
<rect x="67.83" y="366.82" width="2.4" height="2.4" fill="#000" stroke="none" stroke-width="1" />
<rect x="86.55" y="350.18" width="2.4" height="2.4" fill="#000" stroke="none" stroke-width="1" />
<rect x="95.91" y="345.09" width="2.4" height="2.4" fill="#000" stroke="none" stroke-width="1" />
<rect x="105.27" y="342.37" width="2.4" height="2.4" fill="#000" stroke="none" stroke-width="1" />
<rect x="124" y="339.99" width="2.4" height="2.4" fill="#000" stroke="none" stroke-width="1" />
<rect x="142.73" y="338.98" width="2.4" height="2.4" fill="#000" stroke="none" stroke-width="1" />
<rect x="161.45" y="338.98" width="2.4" height="2.4" fill="#000" stroke="none" stroke-width="1" />
<rect x="180.18" y="338.98" width="2.4" height="2.4" fill="#000" stroke="none" stroke-width="1" />
<circle cx="50.3" cy="404.7" r="1" fill="#000" stroke="none" stroke-width="0.6"/>
<circle cx="54.04" cy="398.25" r="1" fill="#000" stroke="none" stroke-width="0.6"/>
<circle cx="61.53" cy="379.57" r="1" fill="#000" stroke="none" stroke-width="0.6"/>
<circle cx="69.03" cy="363.27" r="1" fill="#000" stroke="none" stroke-width="0.6"/>
<circle cx="87.75" cy="342.21" r="1" fill="#000" stroke="none" stroke-width="0.6"/>
<circle cx="97.11" cy="337.46" r="1" fill="#000" stroke="none" stroke-width="0.6"/>
<circle cx="106.47" cy="333.38" r="1" fill="#000" stroke="none" stroke-width="0.6"/>
<circle cx="125.2" cy="328.29" r="1" fill="#000" stroke="none" stroke-width="0.6"/>
<circle cx="134.56" cy="327.61" r="1" fill="#000" stroke="none" stroke-width="0.6"/>
<circle cx="143.93" cy="326.93" r="1" fill="#000" stroke="none" stroke-width="0.6"/>
<circle cx="162.65" cy="326.93" r="1" fill="#000" stroke="none" stroke-width="0.6"/>
<circle cx="181.38" cy="326.93" r="1" fill="#000" stroke="none" stroke-width="0.6"/>
<line x1="52.8" y1="322.1" x2="62" y2="322.1" stroke="#f5a3a3" stroke-width="0.8" />
<line x1="56.3" y1="321" x2="58.5" y2="323.2" stroke="#888" stroke-width="0.5" />
<line x1="56.3" y1="323.2" x2="58.5" y2="321" stroke="#888" stroke-width="0.5" />
<text x="63.3" y="324.06" font-size="5.6" text-anchor="start" font-weight="normal" font-family="'Liberation Serif', 'DejaVu Serif', serif" fill="#333" >x=5</text>
<line x1="52.8" y1="328" x2="62" y2="328" stroke="#f5a3a3" stroke-width="0.8" />
<circle cx="57.4" cy="328" r="1.4" fill="#000" stroke="none" stroke-width="0.6"/>
<text x="63.3" y="329.96" font-size="5.6" text-anchor="start" font-weight="normal" font-family="'Liberation Serif', 'DejaVu Serif', serif" fill="#333" >x=1</text>
<line x1="52.8" y1="333.9" x2="62" y2="333.9" stroke="#f5a3a3" stroke-width="0.8" />
<polygon points="57.4,332.58 58.72,334.96 56.08,334.96" fill="#000"/>
<text x="63.3" y="335.86" font-size="5.6" text-anchor="start" font-weight="normal" font-family="'Liberation Serif', 'DejaVu Serif', serif" fill="#333" >x=0.7</text>
<line x1="52.8" y1="339.8" x2="62" y2="339.8" stroke="#f5a3a3" stroke-width="0.8" />
<rect x="56.3" y="338.7" width="2.2" height="2.2" fill="#000" stroke="none" stroke-width="1" />
<text x="63.3" y="341.76" font-size="5.6" text-anchor="start" font-weight="normal" font-family="'Liberation Serif', 'DejaVu Serif', serif" fill="#333" >x=0.4</text>
<line x1="52.8" y1="345.7" x2="62" y2="345.7" stroke="#f5a3a3" stroke-width="0.8" />
<circle cx="57.4" cy="345.7" r="1" fill="#000" stroke="none" stroke-width="0.6"/>
<text x="63.3" y="347.66" font-size="5.6" text-anchor="start" font-weight="normal" font-family="'Liberation Serif', 'DejaVu Serif', serif" fill="#333" >x=0.1</text>
<rect x="234.3" y="320.5" width="150.6" height="78.3" fill="none" stroke="#a0a0a0" stroke-width="0.75" />
<line x1="234.3" y1="320.5" x2="234.3" y2="398.8" stroke="#888" stroke-width="0.8" />
<line x1="234.3" y1="398.8" x2="384.7" y2="398.8" stroke="#888" stroke-width="0.8" />
<line x1="233" y1="398.8" x2="234.3" y2="398.8" stroke="#999" stroke-width="0.5" />
<text x="227.5" y="401.11" font-size="6.6" text-anchor="middle" font-weight="bold" font-family="'Liberation Serif', 'DejaVu Serif', serif" fill="#222" stroke="#222" stroke-width="0.15" >0</text>
<line x1="233" y1="383.14" x2="234.3" y2="383.14" stroke="#999" stroke-width="0.5" />
<text x="225.3" y="385.45" font-size="6.6" text-anchor="middle" font-weight="bold" font-family="'Liberation Serif', 'DejaVu Serif', serif" fill="#222" stroke="#222" stroke-width="0.15" >0.05</text>
<line x1="233" y1="367.48" x2="234.3" y2="367.48" stroke="#999" stroke-width="0.5" />
<text x="225.3" y="369.79" font-size="6.6" text-anchor="middle" font-weight="bold" font-family="'Liberation Serif', 'DejaVu Serif', serif" fill="#222" stroke="#222" stroke-width="0.15" >0.1</text>
<line x1="233" y1="351.82" x2="234.3" y2="351.82" stroke="#999" stroke-width="0.5" />
<text x="225.3" y="354.13" font-size="6.6" text-anchor="middle" font-weight="bold" font-family="'Liberation Serif', 'DejaVu Serif', serif" fill="#222" stroke="#222" stroke-width="0.15" >0.15</text>
<line x1="233" y1="336.16" x2="234.3" y2="336.16" stroke="#999" stroke-width="0.5" />
<text x="225.3" y="338.47" font-size="6.6" text-anchor="middle" font-weight="bold" font-family="'Liberation Serif', 'DejaVu Serif', serif" fill="#222" stroke="#222" stroke-width="0.15" >0.2</text>
<line x1="233" y1="320.5" x2="234.3" y2="320.5" stroke="#999" stroke-width="0.5" />
<text x="225.3" y="322.81" font-size="6.6" text-anchor="middle" font-weight="bold" font-family="'Liberation Serif', 'DejaVu Serif', serif" fill="#222" stroke="#222" stroke-width="0.15" >0.25</text>
<line x1="234.3" y1="398.8" x2="234.3" y2="400.1" stroke="#999" stroke-width="0.5" />
<text x="234.3" y="408.47" font-size="6.5" text-anchor="middle" font-weight="bold" font-family="'Liberation Serif', 'DejaVu Serif', serif" fill="#222" stroke="#222" stroke-width="0.15" >0</text>
<line x1="259.3" y1="398.8" x2="259.3" y2="400.1" stroke="#999" stroke-width="0.5" />
<text x="259.3" y="408.47" font-size="6.5" text-anchor="middle" font-weight="bold" font-family="'Liberation Serif', 'DejaVu Serif', serif" fill="#222" stroke="#222" stroke-width="0.15" >2</text>
<line x1="284.3" y1="398.8" x2="284.3" y2="400.1" stroke="#999" stroke-width="0.5" />
<text x="284.3" y="408.47" font-size="6.5" text-anchor="middle" font-weight="bold" font-family="'Liberation Serif', 'DejaVu Serif', serif" fill="#222" stroke="#222" stroke-width="0.15" >4</text>
<line x1="309.3" y1="398.8" x2="309.3" y2="400.1" stroke="#999" stroke-width="0.5" />
<text x="309.3" y="408.47" font-size="6.5" text-anchor="middle" font-weight="bold" font-family="'Liberation Serif', 'DejaVu Serif', serif" fill="#222" stroke="#222" stroke-width="0.15" >6</text>
<line x1="334.3" y1="398.8" x2="334.3" y2="400.1" stroke="#999" stroke-width="0.5" />
<text x="334.3" y="408.47" font-size="6.5" text-anchor="middle" font-weight="bold" font-family="'Liberation Serif', 'DejaVu Serif', serif" fill="#222" stroke="#222" stroke-width="0.15" >8</text>
<line x1="359.3" y1="398.8" x2="359.3" y2="400.1" stroke="#999" stroke-width="0.5" />
<text x="359.3" y="408.47" font-size="6.5" text-anchor="middle" font-weight="bold" font-family="'Liberation Serif', 'DejaVu Serif', serif" fill="#222" stroke="#222" stroke-width="0.15" >10</text>
<line x1="384.3" y1="398.8" x2="384.3" y2="400.1" stroke="#999" stroke-width="0.5" />
<text x="384.3" y="408.47" font-size="6.5" text-anchor="middle" font-weight="bold" font-family="'Liberation Serif', 'DejaVu Serif', serif" fill="#222" stroke="#222" stroke-width="0.15" >12</text>
<text transform="translate(216.3,359) rotate(-90)" font-size="6.5" text-anchor="middle" font-weight="bold" font-family="'Liberation Serif', 'DejaVu Serif', serif" fill="#222">I<tspan font-size="4" dy="1.5">lim</tspan><tspan dy="-1.5">, mA</tspan></text>
<text x="309.5" y="418" font-size="6" text-anchor="middle" font-weight="bold" font-family="'Liberation Serif', 'DejaVu Serif', serif" fill="#222">x, vol.% H<tspan font-size="4" dy="1.3">2</tspan></text>
<line x1="246.8" y1="392.07" x2="359.3" y2="336.16" stroke="#f08a8a" stroke-width="0.8" />
<circle cx="244.3" cy="393.16" r="1.5" fill="#000" stroke="none" stroke-width="0.6"/>
<circle cx="246.8" cy="391.91" r="1.5" fill="#000" stroke="none" stroke-width="0.6"/>
<circle cx="251.8" cy="387.84" r="1.5" fill="#000" stroke="none" stroke-width="0.6"/>
<circle cx="284.3" cy="375.31" r="1.5" fill="#000" stroke="none" stroke-width="0.6"/>
<circle cx="359.3" cy="335.22" r="1.5" fill="#000" stroke="none" stroke-width="0.6"/>
<text x="318.9" y="341.2" font-size="5.8" font-family="'Liberation Serif', 'DejaVu Serif', serif" fill="#333">R<tspan font-size="3.6" dy="-2">2</tspan><tspan dy="2"> = 0.997</tspan></text>
<text x="371.4" y="331.35" font-size="7" text-anchor="middle" font-weight="bold" font-family="'Liberation Sans', 'DejaVu Sans', sans-serif" fill="#222" stroke="#222" stroke-width="0.3">(b)</text>
<rect x="47" y="429.3" width="153.7" height="88.5" fill="none" stroke="#8c8c8c" stroke-width="0.8" />
<line x1="47" y1="429.3" x2="47" y2="517.8" stroke="#888" stroke-width="0.8" />
<line x1="47" y1="517.8" x2="200.7" y2="517.8" stroke="#888" stroke-width="0.8" />
<line x1="45.6" y1="517.8" x2="47" y2="517.8" stroke="#999" stroke-width="0.5" />
<text x="39" y="520.25" font-size="7" text-anchor="middle" font-weight="bold" font-family="'Liberation Serif', 'DejaVu Serif', serif" fill="#222" stroke="#222" stroke-width="0.15" >0</text>
<line x1="45.6" y1="491.28" x2="47" y2="491.28" stroke="#999" stroke-width="0.5" />
<text x="43" y="493.73" font-size="7" text-anchor="end" font-weight="bold" font-family="'Liberation Serif', 'DejaVu Serif', serif" fill="#222" stroke="#222" stroke-width="0.15" >0.03</text>
<line x1="45.6" y1="464.76" x2="47" y2="464.76" stroke="#999" stroke-width="0.5" />
<text x="43" y="467.21" font-size="7" text-anchor="end" font-weight="bold" font-family="'Liberation Serif', 'DejaVu Serif', serif" fill="#222" stroke="#222" stroke-width="0.15" >0.06</text>
<line x1="45.6" y1="438.24" x2="47" y2="438.24" stroke="#999" stroke-width="0.5" />
<text x="43" y="440.69" font-size="7" text-anchor="end" font-weight="bold" font-family="'Liberation Serif', 'DejaVu Serif', serif" fill="#222" stroke="#222" stroke-width="0.15" >0.09</text>
<line x1="47" y1="517.8" x2="47" y2="519.1" stroke="#999" stroke-width="0.5" />
<text x="47" y="528.51" font-size="6.6" text-anchor="middle" font-weight="bold" font-family="'Liberation Serif', 'DejaVu Serif', serif" fill="#222" stroke="#222" stroke-width="0.15" >0</text>
<line x1="83" y1="517.8" x2="83" y2="519.1" stroke="#999" stroke-width="0.5" />
<text x="83" y="528.51" font-size="6.6" text-anchor="middle" font-weight="bold" font-family="'Liberation Serif', 'DejaVu Serif', serif" fill="#222" stroke="#222" stroke-width="0.15" >0.2</text>
<line x1="119" y1="517.8" x2="119" y2="519.1" stroke="#999" stroke-width="0.5" />
<text x="119" y="528.51" font-size="6.6" text-anchor="middle" font-weight="bold" font-family="'Liberation Serif', 'DejaVu Serif', serif" fill="#222" stroke="#222" stroke-width="0.15" >0.4</text>
<line x1="155" y1="517.8" x2="155" y2="519.1" stroke="#999" stroke-width="0.5" />
<text x="155" y="528.51" font-size="6.6" text-anchor="middle" font-weight="bold" font-family="'Liberation Serif', 'DejaVu Serif', serif" fill="#222" stroke="#222" stroke-width="0.15" >0.6</text>
<line x1="191" y1="517.8" x2="191" y2="519.1" stroke="#999" stroke-width="0.5" />
<text x="191" y="528.51" font-size="6.6" text-anchor="middle" font-weight="bold" font-family="'Liberation Serif', 'DejaVu Serif', serif" fill="#222" stroke="#222" stroke-width="0.15" >0.8</text>
<text transform="translate(28.77,474.3) rotate(-90)" font-size="6.5" text-anchor="middle" font-weight="bold" font-family="'Liberation Serif', 'DejaVu Serif', serif" fill="#222" >I, mA</text>
<text x="123.8" y="536.47" font-size="6.2" text-anchor="middle" font-weight="bold" font-family="'Liberation Serif', 'DejaVu Serif', serif" fill="#222" stroke="#222" stroke-width="0.15" >ΔU, V</text>
<text x="187.3" y="439.75" font-size="7" text-anchor="middle" font-weight="bold" font-family="'Liberation Sans', 'DejaVu Sans', sans-serif" fill="#222" stroke="#222" stroke-width="0.3">(c)</text>
<path d="M47,512.5 C50,507.52 59,491.6 65,482.62 C71,473.63 77,463.91 83,458.57 C89,453.24 95,452.24 101,450.62 C107,449 113,449.29 119,448.85 C125,448.41 131,448.11 137,447.96 C143,447.82 149,447.96 155,447.96 C161,447.96 167,447.96 173,447.96 C179,447.96 188,447.96 191,447.96" stroke="#f07a7a" stroke-width="0.8" fill="none"/>
<circle cx="47" cy="512.5" r="1.45" fill="#000" stroke="none" stroke-width="0.6"/>
<circle cx="65" cy="482.62" r="1.45" fill="#000" stroke="none" stroke-width="0.6"/>
<circle cx="83" cy="458.57" r="1.45" fill="#000" stroke="none" stroke-width="0.6"/>
<circle cx="101" cy="450.62" r="1.45" fill="#000" stroke="none" stroke-width="0.6"/>
<circle cx="119" cy="448.85" r="1.45" fill="#000" stroke="none" stroke-width="0.6"/>
<circle cx="137" cy="447.96" r="1.45" fill="#000" stroke="none" stroke-width="0.6"/>
<circle cx="155" cy="447.96" r="1.45" fill="#000" stroke="none" stroke-width="0.6"/>
<circle cx="173" cy="447.96" r="1.45" fill="#000" stroke="none" stroke-width="0.6"/>
<circle cx="191" cy="447.96" r="1.45" fill="#000" stroke="none" stroke-width="0.6"/>
<path d="M47,514.62 C50,509.93 59,494.96 65,486.51 C71,478.05 77,469.42 83,463.88 C89,458.34 95,455.33 101,453.27 C107,451.21 113,451.94 119,451.5 C125,451.06 131,450.76 137,450.62 C143,450.47 149,450.62 155,450.62 C161,450.62 167,450.62 173,450.62 C179,450.62 188,450.62 191,450.62" stroke="#f07a7a" stroke-width="0.8" fill="none"/>
<circle cx="47" cy="514.62" r="1.45" fill="#000" stroke="none" stroke-width="0.6"/>
<circle cx="65" cy="486.51" r="1.45" fill="#000" stroke="none" stroke-width="0.6"/>
<circle cx="83" cy="463.88" r="1.45" fill="#000" stroke="none" stroke-width="0.6"/>
<circle cx="101" cy="453.27" r="1.45" fill="#000" stroke="none" stroke-width="0.6"/>
<circle cx="119" cy="451.5" r="1.45" fill="#000" stroke="none" stroke-width="0.6"/>
<circle cx="137" cy="450.62" r="1.45" fill="#000" stroke="none" stroke-width="0.6"/>
<circle cx="155" cy="450.62" r="1.45" fill="#000" stroke="none" stroke-width="0.6"/>
<circle cx="173" cy="450.62" r="1.45" fill="#000" stroke="none" stroke-width="0.6"/>
<circle cx="191" cy="450.62" r="1.45" fill="#000" stroke="none" stroke-width="0.6"/>
<path d="M47,516.92 C50,512.54 59,498.76 65,490.66 C71,482.56 77,474.09 83,468.3 C89,462.51 95,458.28 101,455.92 C107,453.56 113,454.59 119,454.15 C125,453.71 131,453.42 137,453.27 C143,453.12 149,453.27 155,453.27 C161,453.27 167,453.27 173,453.27 C179,453.27 188,453.27 191,453.27" stroke="#f07a7a" stroke-width="0.8" fill="none"/>
<circle cx="47" cy="516.92" r="1.45" fill="#000" stroke="none" stroke-width="0.6"/>
<circle cx="65" cy="490.66" r="1.45" fill="#000" stroke="none" stroke-width="0.6"/>
<circle cx="83" cy="468.3" r="1.45" fill="#000" stroke="none" stroke-width="0.6"/>
<circle cx="101" cy="455.92" r="1.45" fill="#000" stroke="none" stroke-width="0.6"/>
<circle cx="119" cy="454.15" r="1.45" fill="#000" stroke="none" stroke-width="0.6"/>
<circle cx="137" cy="453.27" r="1.45" fill="#000" stroke="none" stroke-width="0.6"/>
<circle cx="155" cy="453.27" r="1.45" fill="#000" stroke="none" stroke-width="0.6"/>
<circle cx="173" cy="453.27" r="1.45" fill="#000" stroke="none" stroke-width="0.6"/>
<circle cx="191" cy="453.27" r="1.45" fill="#000" stroke="none" stroke-width="0.6"/>
<text x="114.2" y="474.6" font-size="6.3" font-weight="bold" font-family="'Liberation Serif', 'DejaVu Serif', serif" fill="#222" stroke="#222" stroke-width="0.15">N<tspan font-size="4" dy="1.3">2</tspan><tspan dy="-1.3">+4%H</tspan><tspan font-size="4" dy="1.3">2</tspan><tspan dy="-1.3">+2%H</tspan><tspan font-size="4" dy="1.3">2</tspan><tspan dy="-1.3">O</tspan></text>
<line x1="124.1" y1="483" x2="132.5" y2="483" stroke="#f07a7a" stroke-width="0.8" />
<circle cx="129.8" cy="483" r="1.4" fill="#000" stroke="none" stroke-width="0.6"/>
<text x="134.6" y="485.5" font-size="7.1" font-weight="bold" font-family="'Liberation Serif', 'DejaVu Serif', serif" fill="#222"><tspan stroke="#222" stroke-width="0.15">550</tspan><tspan font-weight="normal"> °C</tspan></text>
<line x1="124.1" y1="493.25" x2="132.5" y2="493.25" stroke="#f07a7a" stroke-width="0.8" />
<circle cx="129.8" cy="493.25" r="1.4" fill="#000" stroke="none" stroke-width="0.6"/>
<text x="134.6" y="495.75" font-size="7.1" font-weight="bold" font-family="'Liberation Serif', 'DejaVu Serif', serif" fill="#222"><tspan stroke="#222" stroke-width="0.15">500</tspan><tspan font-weight="normal"> °C</tspan></text>
<line x1="124.1" y1="503.5" x2="132.5" y2="503.5" stroke="#f07a7a" stroke-width="0.8" />
<circle cx="129.8" cy="503.5" r="1.4" fill="#000" stroke="none" stroke-width="0.6"/>
<text x="134.6" y="506" font-size="7.1" font-weight="bold" font-family="'Liberation Serif', 'DejaVu Serif', serif" fill="#222"><tspan stroke="#222" stroke-width="0.15">450</tspan><tspan font-weight="normal"> °C</tspan></text>
<rect x="230.4" y="428.6" width="154.6" height="91.5" fill="none" stroke="#999" stroke-width="0.8" />
<line x1="230.4" y1="428.5" x2="230.4" y2="520.2" stroke="#999" stroke-width="0.7" />
<line x1="230.4" y1="520.2" x2="384.8" y2="520.2" stroke="#999" stroke-width="0.7" />
<line x1="229" y1="516.6" x2="230.4" y2="516.6" stroke="#999" stroke-width="0.5" />
<text x="222.5" y="519.01" font-size="6.9" text-anchor="middle" font-weight="bold" font-family="'Liberation Serif', 'DejaVu Serif', serif" fill="#222" stroke="#222" stroke-width="0.15" >0</text>
<line x1="229" y1="499.22" x2="230.4" y2="499.22" stroke="#999" stroke-width="0.5" />
<text x="228.1" y="501.64" font-size="6.9" text-anchor="end" font-weight="bold" font-family="'Liberation Serif', 'DejaVu Serif', serif" fill="#222" stroke="#222" stroke-width="0.15" >0.05</text>
<line x1="229" y1="481.84" x2="230.4" y2="481.84" stroke="#999" stroke-width="0.5" />
<text x="228.1" y="484.26" font-size="6.9" text-anchor="end" font-weight="bold" font-family="'Liberation Serif', 'DejaVu Serif', serif" fill="#222" stroke="#222" stroke-width="0.15" >0.1</text>
<line x1="229" y1="464.46" x2="230.4" y2="464.46" stroke="#999" stroke-width="0.5" />
<text x="228.1" y="466.88" font-size="6.9" text-anchor="end" font-weight="bold" font-family="'Liberation Serif', 'DejaVu Serif', serif" fill="#222" stroke="#222" stroke-width="0.15" >0.15</text>
<line x1="229" y1="447.08" x2="230.4" y2="447.08" stroke="#999" stroke-width="0.5" />
<text x="228.1" y="449.5" font-size="6.9" text-anchor="end" font-weight="bold" font-family="'Liberation Serif', 'DejaVu Serif', serif" fill="#222" stroke="#222" stroke-width="0.15" >0.2</text>
<line x1="229" y1="429.7" x2="230.4" y2="429.7" stroke="#999" stroke-width="0.5" />
<text x="228.1" y="432.12" font-size="6.9" text-anchor="end" font-weight="bold" font-family="'Liberation Serif', 'DejaVu Serif', serif" fill="#222" stroke="#222" stroke-width="0.15" >0.25</text>
<line x1="230.4" y1="520.2" x2="230.4" y2="521.5" stroke="#999" stroke-width="0.5" />
<text x="230.4" y="529.61" font-size="6.6" text-anchor="middle" font-weight="bold" font-family="'Liberation Serif', 'DejaVu Serif', serif" fill="#222" stroke="#222" stroke-width="0.15" >0</text>
<line x1="264.9" y1="520.2" x2="264.9" y2="521.5" stroke="#999" stroke-width="0.5" />
<text x="264.9" y="529.61" font-size="6.6" text-anchor="middle" font-weight="bold" font-family="'Liberation Serif', 'DejaVu Serif', serif" fill="#222" stroke="#222" stroke-width="0.15" >0.2</text>
<line x1="299.4" y1="520.2" x2="299.4" y2="521.5" stroke="#999" stroke-width="0.5" />
<text x="299.4" y="529.61" font-size="6.6" text-anchor="middle" font-weight="bold" font-family="'Liberation Serif', 'DejaVu Serif', serif" fill="#222" stroke="#222" stroke-width="0.15" >0.4</text>
<line x1="333.9" y1="520.2" x2="333.9" y2="521.5" stroke="#999" stroke-width="0.5" />
<text x="333.9" y="529.61" font-size="6.6" text-anchor="middle" font-weight="bold" font-family="'Liberation Serif', 'DejaVu Serif', serif" fill="#222" stroke="#222" stroke-width="0.15" >0.6</text>
<line x1="368.4" y1="520.2" x2="368.4" y2="521.5" stroke="#999" stroke-width="0.5" />
<text x="368.4" y="529.61" font-size="6.6" text-anchor="middle" font-weight="bold" font-family="'Liberation Serif', 'DejaVu Serif', serif" fill="#222" stroke="#222" stroke-width="0.15" >0.8</text>
<text transform="translate(210.41,474) rotate(-90)" font-size="6.3" text-anchor="middle" font-weight="bold" font-family="'Liberation Serif', 'DejaVu Serif', serif" fill="#222" >I, mA</text>
<text x="305.5" y="537.57" font-size="6.2" text-anchor="middle" font-weight="bold" font-family="'Liberation Serif', 'DejaVu Serif', serif" fill="#222" stroke="#222" stroke-width="0.15" >ΔU, V</text>
<path d="M230.4,515.56 C233.28,507.45 241.9,477.78 247.65,466.89 C253.4,456 259.15,453.6 264.9,450.21 C270.65,446.82 276.4,447.17 282.15,446.56 C287.9,445.95 293.65,446.56 299.4,446.56 C305.15,446.56 310.9,446.56 316.65,446.56 C322.4,446.56 328.15,446.56 333.9,446.56 C339.65,446.56 345.4,446.56 351.15,446.56 C356.9,446.56 365.52,446.56 368.4,446.56" stroke="#f07a7a" stroke-width="0.8" fill="none"/>
<path d="M230.4,519.73 C233.28,516.02 241.9,501.99 247.65,497.48 C253.4,492.97 259.15,493.6 264.9,492.69 C270.65,491.77 276.4,492.11 282.15,491.99 C287.9,491.87 293.65,491.99 299.4,491.99 C305.15,491.99 310.9,491.99 316.65,491.99 C322.4,491.99 328.15,491.99 333.9,491.99 C339.65,491.99 345.4,491.99 351.15,491.99 C356.9,491.99 365.52,491.99 368.4,491.99" stroke="#f07a7a" stroke-width="0.8" fill="none"/>
<path d="M230.4,519.73 C233.28,517.93 241.9,511.13 247.65,508.95 C253.4,506.78 259.15,507.21 264.9,506.69 C270.65,506.17 276.4,505.97 282.15,505.82 C287.9,505.68 293.65,505.82 299.4,505.82 C305.15,505.82 310.9,505.82 316.65,505.82 C322.4,505.82 328.15,505.82 333.9,505.82 C339.65,505.82 345.4,505.82 351.15,505.82 C356.9,505.82 365.52,505.82 368.4,505.82" stroke="#f07a7a" stroke-width="0.8" fill="none"/>
<path d="M230.4,519.73 C233.28,518.31 241.9,512.72 247.65,511.21 C253.4,509.71 259.15,510.84 264.9,510.69 C270.65,510.55 276.4,510.4 282.15,510.34 C287.9,510.29 293.65,510.34 299.4,510.34 C305.15,510.34 310.9,510.34 316.65,510.34 C322.4,510.34 328.15,510.34 333.9,510.34 C339.65,510.34 345.4,510.34 351.15,510.34 C356.9,510.34 365.52,510.34 368.4,510.34" stroke="#f07a7a" stroke-width="0.8" fill="none"/>
<path d="M230.4,519.73 C233.28,518.77 241.9,515.21 247.65,513.99 C253.4,512.78 259.15,512.75 264.9,512.43 C270.65,512.11 276.4,512.14 282.15,512.08 C287.9,512.02 293.65,512.08 299.4,512.08 C305.15,512.08 310.9,512.08 316.65,512.08 C322.4,512.08 328.15,512.08 333.9,512.08 C339.65,512.08 345.4,512.08 351.15,512.08 C356.9,512.08 365.52,512.08 368.4,512.08" stroke="#f07a7a" stroke-width="0.8" fill="none"/>
<circle cx="230.4" cy="515.56" r="1.35" fill="#000" stroke="none" stroke-width="0.6"/>
<circle cx="247.65" cy="466.89" r="1.35" fill="#000" stroke="none" stroke-width="0.6"/>
<circle cx="264.9" cy="450.21" r="1.35" fill="#000" stroke="none" stroke-width="0.6"/>
<circle cx="282.15" cy="446.56" r="1.35" fill="#000" stroke="none" stroke-width="0.6"/>
<circle cx="299.4" cy="446.56" r="1.35" fill="#000" stroke="none" stroke-width="0.6"/>
<circle cx="316.65" cy="446.56" r="1.35" fill="#000" stroke="none" stroke-width="0.6"/>
<circle cx="333.9" cy="446.56" r="1.35" fill="#000" stroke="none" stroke-width="0.6"/>
<circle cx="351.15" cy="446.56" r="1.35" fill="#000" stroke="none" stroke-width="0.6"/>
<circle cx="368.4" cy="446.56" r="1.35" fill="#000" stroke="none" stroke-width="0.6"/>
<rect x="229.1" y="518.43" width="2.6" height="2.6" fill="#000" stroke="none" stroke-width="1" />
<rect x="246.35" y="496.18" width="2.6" height="2.6" fill="#000" stroke="none" stroke-width="1" />
<rect x="263.6" y="491.39" width="2.6" height="2.6" fill="#000" stroke="none" stroke-width="1" />
<rect x="280.85" y="490.69" width="2.6" height="2.6" fill="#000" stroke="none" stroke-width="1" />
<rect x="298.1" y="490.69" width="2.6" height="2.6" fill="#000" stroke="none" stroke-width="1" />
<rect x="315.35" y="490.69" width="2.6" height="2.6" fill="#000" stroke="none" stroke-width="1" />
<rect x="332.6" y="490.69" width="2.6" height="2.6" fill="#000" stroke="none" stroke-width="1" />
<rect x="349.85" y="490.69" width="2.6" height="2.6" fill="#000" stroke="none" stroke-width="1" />
<rect x="367.1" y="490.69" width="2.6" height="2.6" fill="#000" stroke="none" stroke-width="1" />
<polygon points="230.4,518.35 231.78,520.83 229.02,520.83" fill="#000"/>
<polygon points="247.65,507.57 249.03,510.06 246.27,510.06" fill="#000"/>
<polygon points="264.9,505.31 266.28,507.8 263.52,507.8" fill="#000"/>
<polygon points="282.15,504.44 283.53,506.93 280.77,506.93" fill="#000"/>
<polygon points="299.4,504.44 300.78,506.93 298.02,506.93" fill="#000"/>
<polygon points="316.65,504.44 318.03,506.93 315.27,506.93" fill="#000"/>
<polygon points="333.9,504.44 335.28,506.93 332.52,506.93" fill="#000"/>
<polygon points="351.15,504.44 352.53,506.93 349.77,506.93" fill="#000"/>
<polygon points="368.4,504.44 369.78,506.93 367.02,506.93" fill="#000"/>
<circle cx="230.4" cy="519.73" r="1.35" fill="#000" stroke="none" stroke-width="0.6"/>
<circle cx="247.65" cy="511.21" r="1.35" fill="#000" stroke="none" stroke-width="0.6"/>
<circle cx="264.9" cy="510.69" r="1.35" fill="#000" stroke="none" stroke-width="0.6"/>
<circle cx="282.15" cy="510.34" r="1.35" fill="#000" stroke="none" stroke-width="0.6"/>
<circle cx="299.4" cy="510.34" r="1.35" fill="#000" stroke="none" stroke-width="0.6"/>
<circle cx="316.65" cy="510.34" r="1.35" fill="#000" stroke="none" stroke-width="0.6"/>
<circle cx="333.9" cy="510.34" r="1.35" fill="#000" stroke="none" stroke-width="0.6"/>
<circle cx="351.15" cy="510.34" r="1.35" fill="#000" stroke="none" stroke-width="0.6"/>
<circle cx="368.4" cy="510.34" r="1.35" fill="#000" stroke="none" stroke-width="0.6"/>
<line x1="229.2" y1="518.53" x2="231.6" y2="520.93" stroke="#333" stroke-width="0.5" />
<line x1="229.2" y1="520.93" x2="231.6" y2="518.53" stroke="#333" stroke-width="0.5" />
<line x1="229.2" y1="519.73" x2="231.6" y2="519.73" stroke="#333" stroke-width="0.5" />
<line x1="246.45" y1="512.79" x2="248.85" y2="515.19" stroke="#333" stroke-width="0.5" />
<line x1="246.45" y1="515.19" x2="248.85" y2="512.79" stroke="#333" stroke-width="0.5" />
<line x1="246.45" y1="513.99" x2="248.85" y2="513.99" stroke="#333" stroke-width="0.5" />
<line x1="263.7" y1="511.23" x2="266.1" y2="513.63" stroke="#333" stroke-width="0.5" />
<line x1="263.7" y1="513.63" x2="266.1" y2="511.23" stroke="#333" stroke-width="0.5" />
<line x1="263.7" y1="512.43" x2="266.1" y2="512.43" stroke="#333" stroke-width="0.5" />
<line x1="280.95" y1="510.88" x2="283.35" y2="513.28" stroke="#333" stroke-width="0.5" />
<line x1="280.95" y1="513.28" x2="283.35" y2="510.88" stroke="#333" stroke-width="0.5" />
<line x1="280.95" y1="512.08" x2="283.35" y2="512.08" stroke="#333" stroke-width="0.5" />
<line x1="298.2" y1="510.88" x2="300.6" y2="513.28" stroke="#333" stroke-width="0.5" />
<line x1="298.2" y1="513.28" x2="300.6" y2="510.88" stroke="#333" stroke-width="0.5" />
<line x1="298.2" y1="512.08" x2="300.6" y2="512.08" stroke="#333" stroke-width="0.5" />
<line x1="315.45" y1="510.88" x2="317.85" y2="513.28" stroke="#333" stroke-width="0.5" />
<line x1="315.45" y1="513.28" x2="317.85" y2="510.88" stroke="#333" stroke-width="0.5" />
<line x1="315.45" y1="512.08" x2="317.85" y2="512.08" stroke="#333" stroke-width="0.5" />
<line x1="332.7" y1="510.88" x2="335.1" y2="513.28" stroke="#333" stroke-width="0.5" />
<line x1="332.7" y1="513.28" x2="335.1" y2="510.88" stroke="#333" stroke-width="0.5" />
<line x1="332.7" y1="512.08" x2="335.1" y2="512.08" stroke="#333" stroke-width="0.5" />
<line x1="349.95" y1="510.88" x2="352.35" y2="513.28" stroke="#333" stroke-width="0.5" />
<line x1="349.95" y1="513.28" x2="352.35" y2="510.88" stroke="#333" stroke-width="0.5" />
<line x1="349.95" y1="512.08" x2="352.35" y2="512.08" stroke="#333" stroke-width="0.5" />
<line x1="367.2" y1="510.88" x2="369.6" y2="513.28" stroke="#333" stroke-width="0.5" />
<line x1="367.2" y1="513.28" x2="369.6" y2="510.88" stroke="#333" stroke-width="0.5" />
<line x1="367.2" y1="512.08" x2="369.6" y2="512.08" stroke="#333" stroke-width="0.5" />
<rect x="352.6" y="429.2" width="31.9" height="39.5" fill="#fff" stroke="none" stroke-width="1" />
<text x="369.5" y="435.63" font-size="5.8" text-anchor="middle" font-weight="bold" font-family="'Liberation Serif', 'DejaVu Serif', serif" fill="#222" stroke="#222" stroke-width="0.15" >500 °C</text>
<text x="349.5" y="440.95" font-size="7" text-anchor="middle" font-weight="bold" font-family="'Liberation Sans', 'DejaVu Sans', sans-serif" fill="#222" stroke="#222" stroke-width="0.3">(d)</text>
<line x1="354" y1="438.5" x2="364.5" y2="438.5" stroke="#f07a7a" stroke-width="0.8" />
<circle cx="359.3" cy="438.5" r="1.3" fill="#000" stroke="none" stroke-width="0.6"/>
<text x="365.2" y="440.63" font-size="6.1" text-anchor="start" font-weight="normal" font-family="'Liberation Serif', 'DejaVu Serif', serif" fill="#333" >x = 10</text>
<line x1="354" y1="445.05" x2="364.5" y2="445.05" stroke="#f07a7a" stroke-width="0.8" />
<rect x="358.1" y="443.85" width="2.4" height="2.4" fill="#000" stroke="none" stroke-width="1" />
<text x="365.2" y="447.19" font-size="6.1" text-anchor="start" font-weight="normal" font-family="'Liberation Serif', 'DejaVu Serif', serif" fill="#333" >x = 4</text>
<line x1="354" y1="451.6" x2="364.5" y2="451.6" stroke="#f07a7a" stroke-width="0.8" />
<polygon points="359.3,450.28 360.62,452.66 357.98,452.66" fill="#000"/>
<text x="365.2" y="453.74" font-size="6.1" text-anchor="start" font-weight="normal" font-family="'Liberation Serif', 'DejaVu Serif', serif" fill="#333" >x = 1.4</text>
<line x1="354" y1="458.15" x2="364.5" y2="458.15" stroke="#f07a7a" stroke-width="0.8" />
<circle cx="359.3" cy="458.15" r="1.3" fill="#000" stroke="none" stroke-width="0.6"/>
<text x="365.2" y="460.28" font-size="6.1" text-anchor="start" font-weight="normal" font-family="'Liberation Serif', 'DejaVu Serif', serif" fill="#333" >x = 1</text>
<line x1="354" y1="464.7" x2="364.5" y2="464.7" stroke="#f07a7a" stroke-width="0.8" />
<line x1="358.2" y1="463.6" x2="360.4" y2="465.8" stroke="#333" stroke-width="0.5" />
<line x1="358.2" y1="465.8" x2="360.4" y2="463.6" stroke="#333" stroke-width="0.5" />
<line x1="358.2" y1="464.7" x2="360.4" y2="464.7" stroke="#333" stroke-width="0.5" />
<text x="365.2" y="466.83" font-size="6.1" text-anchor="start" font-weight="normal" font-family="'Liberation Serif', 'DejaVu Serif', serif" fill="#333" >x = 0.8</text>
<defs>
<pattern id="hatch" patternUnits="userSpaceOnUse" width="2.5" height="2.5" patternTransform="rotate(-45)">
<rect width="2.5" height="2.5" fill="#fff"/><line x1="0" y1="0" x2="0" y2="2.5" stroke="#a0a0a0" stroke-width="0.55"/></pattern>
<linearGradient id="tubeg" x1="0" y1="0" x2="0" y2="1"><stop offset="0" stop-color="#e8e8e8"/><stop offset="0.5" stop-color="#fafafa"/><stop offset="1" stop-color="#bdbdbd"/></linearGradient>
<linearGradient id="photobg" x1="0" y1="0" x2="0.3" y2="1"><stop offset="0" stop-color="#ebebeb"/><stop offset="1" stop-color="#dddddd"/></linearGradient>
<linearGradient id="chipg" x1="0" y1="0" x2="1" y2="0"><stop offset="0" stop-color="#f2efd8"/><stop offset="1" stop-color="#e9e4c6"/></linearGradient>
<linearGradient id="greyg" x1="0" y1="0" x2="1" y2="1"><stop offset="0" stop-color="#aaa79c"/><stop offset="0.5" stop-color="#bcb9b0"/><stop offset="1" stop-color="#a9a69c"/></linearGradient>
<linearGradient id="gbandg" x1="0" y1="0" x2="0" y2="1"><stop offset="0" stop-color="#e6f2c2"/><stop offset="1" stop-color="#cfe39a"/></linearGradient>
</defs>
<path d="M32.3,27.5 H97.5 V42.2 H90.8 V38.2 H39 V42.2 H32.3 Z" fill="url(#hatch)" stroke="#222" stroke-width="0.7"/>
<rect x="48" y="28.4" width="31" height="9.2" fill="#fff" stroke="none" stroke-width="1" opacity="0.8"/>
<path d="M32.6,66.5 H97.3 V52.9 H90.6 V55.3 H39 V52.3 H32.6 Z" fill="url(#hatch)" stroke="#222" stroke-width="0.6"/>
<rect x="48" y="56.4" width="31" height="9.5" fill="#fff" stroke="none" stroke-width="1" opacity="0.8"/>
<rect x="39" y="25.7" width="51.4" height="1.9" fill="#111" stroke="none" stroke-width="1" />
<rect x="39" y="37.6" width="51.4" height="1.8" fill="#111" stroke="none" stroke-width="1" />
<rect x="39" y="54.1" width="51.4" height="1.8" fill="#111" stroke="none" stroke-width="1" />
<rect x="39" y="66.4" width="51.4" height="1.9" fill="#111" stroke="none" stroke-width="1" />
<line x1="39" y1="40.6" x2="76" y2="40.6" stroke="#333" stroke-width="0.6" />
<line x1="39" y1="52" x2="76" y2="52" stroke="#333" stroke-width="0.6" />
<rect x="75.9" y="40" width="14.5" height="4.6" rx="1.5" fill="url(#tubeg)" stroke="#777" stroke-width="0.45"/>
<rect x="75.9" y="49.6" width="14.5" height="4.4" rx="1.5" fill="url(#tubeg)" stroke="#777" stroke-width="0.45"/>
<rect x="16.6" y="45.1" width="43.7" height="3" fill="#151515" stroke="none" stroke-width="1" />
<line x1="5.5" y1="46.9" x2="16.6" y2="46.9" stroke="#bbb" stroke-width="0.6" />
<line x1="35.5" y1="42.2" x2="35.5" y2="45.1" stroke="#555" stroke-width="0.5" stroke-dasharray="0.8,0.6"/>
<line x1="35.5" y1="48.1" x2="35.5" y2="52.3" stroke="#555" stroke-width="0.5" stroke-dasharray="0.8,0.6"/>
<line x1="38.7" y1="42.2" x2="38.7" y2="45.1" stroke="#555" stroke-width="0.5" stroke-dasharray="0.8,0.6"/>
<line x1="38.7" y1="48.1" x2="38.7" y2="52.3" stroke="#555" stroke-width="0.5" stroke-dasharray="0.8,0.6"/>
<path d="M89,44.4 H98.5 M89,51.3 H98.5 M90.5,44.4 V51.3 M97,44.4 V51.3" stroke="#444" stroke-width="0.5" fill="none" stroke-dasharray="1,0.6"/>
<rect x="91.5" y="46.2" width="4.5" height="3.4" fill="#fff" stroke="#666" stroke-width="0.4" />
<text x="62.5" y="31.3" font-size="2.8" text-anchor="middle" font-family="'Liberation Serif', 'DejaVu Serif', serif" fill="#444">anion conducting</text>
<text x="62.5" y="34.1" font-size="2.8" text-anchor="middle" font-family="'Liberation Serif', 'DejaVu Serif', serif" fill="#444">YSZ electrolyte</text>
<text x="62.5" y="60.3" font-size="2.8" text-anchor="middle" font-family="'Liberation Serif', 'DejaVu Serif', serif" fill="#444">proton conducting</text>
<text x="62.5" y="63.0" font-size="2.8" text-anchor="middle" font-family="'Liberation Serif', 'DejaVu Serif', serif" fill="#444">Ba₂Zr₁₋ₓYₓO₃ electrolyte</text>
<path d="M64.2,25.7 V21.1 H111.4 V27.2 M111.4,37.4 V44.9 H97.6" stroke="#333" stroke-width="0.7" fill="none"/>
<circle cx="111.3" cy="32.3" r="5" fill="#fff" stroke="#333" stroke-width="0.7"/>
<text x="111.3" y="34" font-size="4.5" text-anchor="middle" font-style="italic" font-family="'Liberation Serif', 'DejaVu Serif', serif" fill="#555">U</text>
<path d="M98.5,49.5 H111.6 V56.4 M111.6,59 V72.6 H108.3 M98.1,72.6 H64.2 V68.2" stroke="#333" stroke-width="0.7" fill="none"/>
<line x1="106.5" y1="56.4" x2="117.7" y2="56.4" stroke="#333" stroke-width="0.8" />
<line x1="109.1" y1="59" x2="114.7" y2="59" stroke="#333" stroke-width="1.5" />
<circle cx="103.2" cy="73" r="5" fill="#fff" stroke="#333" stroke-width="0.7"/>
<text x="103.2" y="74.6" font-size="4.5" text-anchor="middle" font-style="italic" font-family="'Liberation Serif', 'DejaVu Serif', serif" fill="#555">A</text>
<line x1="115.9" y1="51.1" x2="120.5" y2="51.1" stroke="#444" stroke-width="0.7" />
<line x1="118.2" y1="48.8" x2="118.2" y2="53.4" stroke="#444" stroke-width="0.7" />
<line x1="115.9" y1="63.7" x2="120.6" y2="63.7" stroke="#444" stroke-width="0.7" />
<line x1="43.4" y1="14.2" x2="43.4" y2="22.8" stroke="#666" stroke-width="0.45" />
<polygon points="42.5,21.9 44.3,21.9 43.4,24" fill="#555"/>
<line x1="54.6" y1="12.5" x2="54.6" y2="22.8" stroke="#666" stroke-width="0.45" />
<polygon points="53.7,21.9 55.5,21.9 54.6,24" fill="#555"/>
<line x1="67.2" y1="14.2" x2="67.2" y2="22.8" stroke="#666" stroke-width="0.45" />
<polygon points="66.3,21.9 68.10000000000001,21.9 67.2,24" fill="#555"/>
<line x1="53.7" y1="12.6" x2="55.5" y2="12.6" stroke="#666" stroke-width="0.45" />
<line x1="44.6" y1="71.2" x2="44.6" y2="81.5" stroke="#666" stroke-width="0.45" />
<polygon points="43.7,72.2 45.5,72.2 44.6,70.1" fill="#555"/>
<line x1="55.1" y1="71.2" x2="55.1" y2="81.5" stroke="#666" stroke-width="0.45" />
<polygon points="54.2,72.2 56.0,72.2 55.1,70.1" fill="#555"/>
<line x1="66.3" y1="71.2" x2="66.3" y2="81.5" stroke="#666" stroke-width="0.45" />
<polygon points="65.39999999999999,72.2 67.2,72.2 66.3,70.1" fill="#555"/>
<line x1="54.2" y1="81.6" x2="56" y2="81.6" stroke="#666" stroke-width="0.45" />
<text x="18.4" y="32.8" font-size="4.6" text-anchor="middle" font-family="'Liberation Serif', 'DejaVu Serif', serif" fill="#333">2</text>
<path d="M19.6,33.6 Q27,38 31.6,45.2" stroke="#555" stroke-width="0.5" fill="none"/>
<text x="21.3" y="61.8" font-size="4.6" text-anchor="middle" font-family="'Liberation Serif', 'DejaVu Serif', serif" fill="#333">4</text>
<path d="M22.6,60 Q28,54 32.6,49" stroke="#555" stroke-width="0.5" fill="none"/>
<text x="23.2" y="74.9" font-size="4.6" text-anchor="middle" font-family="'Liberation Serif', 'DejaVu Serif', serif" fill="#333">3</text>
<path d="M24.6,73 L32,66.2 M24.6,73.6 L38,67.6 M17.2,73.8 H21.6" stroke="#555" stroke-width="0.5" fill="none"/>
<rect x="124.8" y="12.6" width="82.2" height="70.4" fill="url(#photobg)" stroke="none" stroke-width="1" />
<line x1="124.8" y1="42.2" x2="134" y2="42.2" stroke="#fbfbfb" stroke-width="0.9" />
<line x1="124.8" y1="43.1" x2="134" y2="43.1" stroke="#bdbdbd" stroke-width="0.4" />
<rect x="134.6" y="24.8" width="56" height="37.4" rx="5" fill="#cbcbc6" opacity="0.7"/>
<rect x="133.8" y="23.8" width="55.9" height="37.2" rx="4.5" fill="#e7e1c8"/>
<rect x="137.2" y="24.5" width="51" height="37.6" rx="8" fill="#8a7a4a"/>
<rect x="137.2" y="24.5" width="51" height="36.4" rx="8" fill="#918150"/>
<rect x="138.2" y="25.3" width="49" height="34.2" rx="7" fill="#988752"/>
<rect x="142.4" y="28.5" width="40.8" height="27.8" rx="3" fill="#a3a095"/>
<path d="M183.2,32.4 H152.5 Q146.6,32.4 146.6,42.2 Q146.6,51.8 152.5,51.8 H183.2 Z" fill="#b8b6ad"/>
<path d="M186,29.5 Q180,30.8 176,30.8 H152 Q145.1,30.8 145.1,42.2 Q145.1,53.3 152,53.3 H183.2" stroke="#cfcdc5" stroke-width="0.9" fill="none"/>
<path d="M186,29.5 Q190,27 193,26.8 Q200,26 207,26.4 M189.5,35.5 Q198,34.8 207,35.4 M189.5,50.2 Q198,50.8 207,50 M189.5,56 Q198,56.5 207,57" stroke="#fbfbfb" stroke-width="0.9" fill="none"/>
<path d="M190,28.2 Q198,27 207,27.2 M190,36.2 Q198,35.4 207,36 M190,51.4 Q198,51.8 207,51 M190,55.8 Q198,56.8 207,57.3" stroke="#c4c4c4" stroke-width="0.35" fill="none"/>
<text x="164.7" y="77.6" font-size="7.2" text-anchor="middle" font-weight="bold" font-style="italic" font-family="'Liberation Sans', 'DejaVu Sans', sans-serif" fill="#1a1a1a">1 cm</text>
<line x1="149.5" y1="80.2" x2="179.2" y2="80.2" stroke="#777" stroke-width="0.9" />
<rect x="210" y="23.3" width="102" height="55.5" fill="#dde4f2" stroke="#7d7f8c" stroke-width="0.8" stroke-dasharray="1.6,1.3"/>
<text x="212.6" y="29.1" font-size="4.55" font-weight="bold" font-family="'Liberation Serif', 'DejaVu Serif', serif" fill="#111" stroke="#111" stroke-width="0.22">Amperometric mode</text>
<rect x="217.9" y="45.7" width="52.9" height="1.35" fill="#8c8c8c" stroke="none" stroke-width="1" />
<rect x="219" y="60.9" width="51.8" height="1.45" fill="#8c8c8c" stroke="none" stroke-width="1" />
<rect x="212.7" y="47" width="63.2" height="3.8" fill="url(#gbandg)"/>
<rect x="212.7" y="56.6" width="63.2" height="4.3" fill="url(#gbandg)"/>
<rect x="217.4" y="51.4" width="56.3" height="4.3" fill="#fff" stroke="none" stroke-width="1" />
<line x1="217.7" y1="51.2" x2="275.9" y2="51.2" stroke="#999" stroke-width="0.8" />
<line x1="217.7" y1="55.9" x2="275.9" y2="55.9" stroke="#999" stroke-width="0.8" />
<rect x="213" y="47" width="8.5" height="3.8" fill="#eef6d0" stroke="none" stroke-width="1" />
<text x="217.2" y="50.1" font-size="3.3" text-anchor="middle" font-family="'Liberation Serif', 'DejaVu Serif', serif" fill="#6a6a40">GDC</text>
<rect x="213" y="56.8" width="8.5" height="3.8" fill="#eef6d0" stroke="none" stroke-width="1" />
<text x="217.2" y="59.9" font-size="3.3" text-anchor="middle" font-family="'Liberation Serif', 'DejaVu Serif', serif" fill="#6a6a40">GDC</text>
<ellipse cx="214.7" cy="54.1" rx="2.9" ry="1.0" fill="#e0741e"/>
<path d="M279.3,51.7 H274.7 Q272.3,51.7 272.3,54.1 Q272.3,56.5 274.7,56.5 H279.3 Z" fill="#fff" stroke="#222" stroke-width="0.7"/>
<line x1="273.2" y1="51.6" x2="278.2" y2="51.6" stroke="#d77a2a" stroke-width="0.9" />
<rect x="279.3" y="54.5" width="16.8" height="1.6" fill="#333" stroke="none" stroke-width="1" />
<rect x="279.3" y="52.9" width="20.2" height="1.6" fill="#5d86d4" stroke="none" stroke-width="1" />
<path d="M225.9,45.5 V36.4 H229.3 M231.9,36.4 H235 M242.8,36.4 H244.6 V51" stroke="#111" stroke-width="0.7" fill="none"/>
<line x1="229.5" y1="34.2" x2="229.5" y2="38.6" stroke="#111" stroke-width="0.6" />
<line x1="231.5" y1="35" x2="231.5" y2="37.8" stroke="#111" stroke-width="1.0" />
<circle cx="238.9" cy="36.4" r="3.9" fill="#fff" stroke="#111" stroke-width="0.6"/>
<text x="238.9" y="38" font-size="4.2" text-anchor="middle" font-family="'Liberation Serif', 'DejaVu Serif', serif" fill="#222">A</text>
<path d="M230.1,62.3 V71.6 H232.4 M240.6,71.6 H242.3 V57" stroke="#111" stroke-width="0.7" fill="none"/>
<circle cx="236.5" cy="71.6" r="4.1" fill="#fff" stroke="#111" stroke-width="0.6"/>
<text x="236.5" y="73.2" font-size="4.2" text-anchor="middle" font-family="'Liberation Serif', 'DejaVu Serif', serif" fill="#222">V</text>
<rect x="314.6" y="23.3" width="102" height="55.5" fill="#e5e0f0" stroke="#7d7f8c" stroke-width="0.8" stroke-dasharray="1.6,1.3"/>
<text x="317.2" y="29.1" font-size="4.55" font-weight="bold" font-family="'Liberation Serif', 'DejaVu Serif', serif" fill="#111" stroke="#111" stroke-width="0.22">Potentiometric mode</text>
<rect x="322.5" y="45.7" width="52.9" height="1.35" fill="#8c8c8c" stroke="none" stroke-width="1" />
<rect x="323.6" y="60.9" width="51.8" height="1.45" fill="#8c8c8c" stroke="none" stroke-width="1" />
<rect x="317.3" y="47" width="63.2" height="3.8" fill="url(#gbandg)"/>
<rect x="317.3" y="56.6" width="63.2" height="4.3" fill="url(#gbandg)"/>
<rect x="322" y="51.4" width="56.3" height="4.3" fill="#fff" stroke="none" stroke-width="1" />
<line x1="322.3" y1="51.2" x2="380.5" y2="51.2" stroke="#999" stroke-width="0.8" />
<line x1="322.3" y1="55.9" x2="380.5" y2="55.9" stroke="#999" stroke-width="0.8" />
<rect x="317.6" y="47" width="8.5" height="3.8" fill="#eef6d0" stroke="none" stroke-width="1" />
<text x="321.8" y="50.1" font-size="3.3" text-anchor="middle" font-family="'Liberation Serif', 'DejaVu Serif', serif" fill="#6a6a40">GDC</text>
<rect x="317.6" y="56.8" width="8.5" height="3.8" fill="#eef6d0" stroke="none" stroke-width="1" />
<text x="321.8" y="59.9" font-size="3.3" text-anchor="middle" font-family="'Liberation Serif', 'DejaVu Serif', serif" fill="#6a6a40">GDC</text>
<ellipse cx="319.3" cy="54.1" rx="2.9" ry="1.0" fill="#e0741e"/>
<path d="M383.9,51.7 H379.3 Q376.9,51.7 376.9,54.1 Q376.9,56.5 379.3,56.5 H383.9 Z" fill="#fff" stroke="#222" stroke-width="0.7"/>
<line x1="377.8" y1="51.6" x2="382.8" y2="51.6" stroke="#d77a2a" stroke-width="0.9" />
<rect x="383.9" y="54.5" width="16.8" height="1.6" fill="#333" stroke="none" stroke-width="1" />
<rect x="383.9" y="52.9" width="20.2" height="1.6" fill="#5d86d4" stroke="none" stroke-width="1" />
<path d="M331.3,45.5 V36.2 H334.5 M337.1,36.2 H340.6 M348.3,36.2 H350.3 V51" stroke="#111" stroke-width="0.7" fill="none"/>
<line x1="334.7" y1="34" x2="334.7" y2="38.4" stroke="#111" stroke-width="0.6" />
<line x1="336.7" y1="34.8" x2="336.7" y2="37.6" stroke="#111" stroke-width="1.0" />
<circle cx="344.6" cy="36.2" r="3.9" fill="#fff" stroke="#111" stroke-width="0.6"/>
<text x="344.6" y="37.8" font-size="4.2" text-anchor="middle" font-family="'Liberation Serif', 'DejaVu Serif', serif" fill="#222">A</text>
<path d="M334.8,62.3 V72.2 H337.7 M345.9,72.2 H347.9 V57" stroke="#111" stroke-width="0.7" fill="none"/>
<circle cx="341.8" cy="72.2" r="4.1" fill="#fff" stroke="#111" stroke-width="0.6"/>
<text x="341.8" y="73.8" font-size="4.2" text-anchor="middle" font-family="'Liberation Serif', 'DejaVu Serif', serif" fill="#222">V</text>
<path d="M260.3,54.6 V36.3 H258.3 L262,31.9 L265.7,36.3 H263.7 V54.6 Z" fill="#3d64bf"/>
<path d="M366.1,32.3 V49.6 H364.2 L367.9,54.4 L371.6,49.6 H369.7 V32.3 Z" fill="#3d64bf"/>
<rect x="279.2" y="24.5" width="25.6" height="18.1" fill="#f8f8fa" stroke="#a0a0a8" stroke-width="0.45" />
<polyline points="280.2,42.6 283.02,36.33 285.85,30.25 288.68,27.7 291.5,27.31 294.32,27.31 297.15,27.31 299.97,27.31 302.8,27.31" stroke="#e86060" stroke-width="0.55" fill="none" stroke-dasharray="0.9,0.5"/>
<rect x="279.6" y="42" width="1.2" height="1.2" fill="#333" stroke="none" stroke-width="1" />
<rect x="282.42" y="35.73" width="1.2" height="1.2" fill="#333" stroke="none" stroke-width="1" />
<rect x="285.25" y="29.65" width="1.2" height="1.2" fill="#333" stroke="none" stroke-width="1" />
<rect x="288.07" y="27.1" width="1.2" height="1.2" fill="#333" stroke="none" stroke-width="1" />
<rect x="290.9" y="26.71" width="1.2" height="1.2" fill="#333" stroke="none" stroke-width="1" />
<rect x="293.72" y="26.71" width="1.2" height="1.2" fill="#333" stroke="none" stroke-width="1" />
<rect x="296.55" y="26.71" width="1.2" height="1.2" fill="#333" stroke="none" stroke-width="1" />
<rect x="299.37" y="26.71" width="1.2" height="1.2" fill="#333" stroke="none" stroke-width="1" />
<rect x="302.2" y="26.71" width="1.2" height="1.2" fill="#333" stroke="none" stroke-width="1" />
<text x="280.2" y="47.6" font-size="3.1" text-anchor="middle" font-family="'Liberation Serif', 'DejaVu Serif', serif" fill="#555">0</text>
<text x="278.3" y="43.7" font-size="3.1" text-anchor="end" font-family="'Liberation Serif', 'DejaVu Serif', serif" fill="#555">0</text>
<text x="285.85" y="47.6" font-size="3.1" text-anchor="middle" font-family="'Liberation Serif', 'DejaVu Serif', serif" fill="#555">0.2</text>
<text x="278.3" y="39.78" font-size="3.1" text-anchor="end" font-family="'Liberation Serif', 'DejaVu Serif', serif" fill="#555">0.2</text>
<text x="291.5" y="47.6" font-size="3.1" text-anchor="middle" font-family="'Liberation Serif', 'DejaVu Serif', serif" fill="#555">0.4</text>
<text x="278.3" y="35.86" font-size="3.1" text-anchor="end" font-family="'Liberation Serif', 'DejaVu Serif', serif" fill="#555">0.4</text>
<text x="297.15" y="47.6" font-size="3.1" text-anchor="middle" font-family="'Liberation Serif', 'DejaVu Serif', serif" fill="#555">0.6</text>
<text x="278.3" y="31.94" font-size="3.1" text-anchor="end" font-family="'Liberation Serif', 'DejaVu Serif', serif" fill="#555">0.6</text>
<text x="302.8" y="47.6" font-size="3.1" text-anchor="middle" font-family="'Liberation Serif', 'DejaVu Serif', serif" fill="#555">0.8</text>
<text x="278.3" y="28.02" font-size="3.1" text-anchor="end" font-family="'Liberation Serif', 'DejaVu Serif', serif" fill="#555">0.8</text>
<text x="292.5" y="51.1" font-size="3.1" text-anchor="middle" font-family="'Liberation Serif', 'DejaVu Serif', serif" fill="#444">ΔU, V</text>
<text transform="translate(271,33.8) rotate(-90)" font-size="3.1" text-anchor="middle" font-family="'Liberation Serif', 'DejaVu Serif', serif" fill="#444">I, mA</text>
<rect x="384.8" y="24.7" width="23.6" height="18.8" fill="#f6f4fa" stroke="#a0a0a8" stroke-width="0.45" />
<polyline points="385.2,43.3 405.7,26.3" stroke="#e86060" stroke-width="0.5" fill="none" stroke-dasharray="0.9,0.5"/>
<polyline points="385.69,38.09 387.61,32.88 389.15,30.41 391.07,28.3 393,27.39 395.31,26.93 397.62,26.75 399.93,26.56 402.24,26.47 404.55,26.38 405.32,26.38" stroke="#e86060" stroke-width="0.5" fill="none" stroke-dasharray="0.9,0.5"/>
<rect x="385.04" y="37.44" width="1.3" height="1.3" fill="#222" stroke="none" stroke-width="1" />
<rect x="386.96" y="32.23" width="1.3" height="1.3" fill="#222" stroke="none" stroke-width="1" />
<rect x="388.5" y="29.76" width="1.3" height="1.3" fill="#222" stroke="none" stroke-width="1" />
<rect x="390.43" y="27.65" width="1.3" height="1.3" fill="#222" stroke="none" stroke-width="1" />
<rect x="392.35" y="26.74" width="1.3" height="1.3" fill="#222" stroke="none" stroke-width="1" />
<rect x="394.66" y="26.28" width="1.3" height="1.3" fill="#222" stroke="none" stroke-width="1" />
<rect x="396.97" y="26.1" width="1.3" height="1.3" fill="#222" stroke="none" stroke-width="1" />
<rect x="399.28" y="25.91" width="1.3" height="1.3" fill="#222" stroke="none" stroke-width="1" />
<rect x="401.59" y="25.82" width="1.3" height="1.3" fill="#222" stroke="none" stroke-width="1" />
<rect x="403.9" y="25.73" width="1.3" height="1.3" fill="#222" stroke="none" stroke-width="1" />
<rect x="404.67" y="25.73" width="1.3" height="1.3" fill="#222" stroke="none" stroke-width="1" />
<line x1="398.8" y1="34.9" x2="400.8" y2="34.9" stroke="#555" stroke-width="0.4" />
<text x="385.3" y="48.6" font-size="3.1" text-anchor="middle" font-family="'Liberation Serif', 'DejaVu Serif', serif" fill="#555">0</text>
<text x="393" y="48.6" font-size="3.1" text-anchor="middle" font-family="'Liberation Serif', 'DejaVu Serif', serif" fill="#555">1</text>
<text x="400.7" y="48.6" font-size="3.1" text-anchor="middle" font-family="'Liberation Serif', 'DejaVu Serif', serif" fill="#555">2</text>
<text x="408.4" y="48.6" font-size="3.1" text-anchor="middle" font-family="'Liberation Serif', 'DejaVu Serif', serif" fill="#555">3</text>
<text x="384" y="44.5" font-size="3.0" text-anchor="end" font-family="'Liberation Serif', 'DejaVu Serif', serif" fill="#555">0</text>
<text x="384" y="39.92" font-size="3.0" text-anchor="end" font-family="'Liberation Serif', 'DejaVu Serif', serif" fill="#555">50</text>
<text x="384" y="35.35" font-size="3.0" text-anchor="end" font-family="'Liberation Serif', 'DejaVu Serif', serif" fill="#555">100</text>
<text x="384" y="30.77" font-size="3.0" text-anchor="end" font-family="'Liberation Serif', 'DejaVu Serif', serif" fill="#555">150</text>
<text x="384" y="26.2" font-size="3.0" text-anchor="end" font-family="'Liberation Serif', 'DejaVu Serif', serif" fill="#555">200</text>
<text x="409.8" y="44.5" font-size="2.7" font-family="'Liberation Serif', 'DejaVu Serif', serif" fill="#555">0</text>
<text x="409.8" y="40.74" font-size="2.7" font-family="'Liberation Serif', 'DejaVu Serif', serif" fill="#555">2</text>
<text x="409.8" y="36.98" font-size="2.7" font-family="'Liberation Serif', 'DejaVu Serif', serif" fill="#555">4</text>
<text x="409.8" y="33.22" font-size="2.7" font-family="'Liberation Serif', 'DejaVu Serif', serif" fill="#555">6</text>
<text x="409.8" y="29.46" font-size="2.7" font-family="'Liberation Serif', 'DejaVu Serif', serif" fill="#555">8</text>
<text x="409.8" y="25.7" font-size="2.7" font-family="'Liberation Serif', 'DejaVu Serif', serif" fill="#555">10</text>
<text x="398.2" y="50.8" font-size="3.1" text-anchor="middle" font-family="'Liberation Serif', 'DejaVu Serif', serif" fill="#444">ΔU, V</text>
<text transform="translate(379.2,33.8) rotate(-90)" font-size="3.1" text-anchor="middle" font-family="'Liberation Serif', 'DejaVu Serif', serif" fill="#444">E, mV</text>
<text transform="translate(417.6,33.8) rotate(-90)" font-size="3.1" text-anchor="middle" font-family="'Liberation Serif', 'DejaVu Serif', serif" fill="#444">I, mA</text>
</svg>
</body></html>
